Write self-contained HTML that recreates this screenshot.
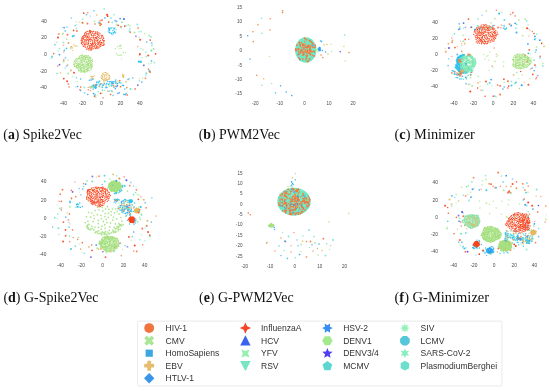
<!DOCTYPE html>
<html lang="en">
<head>
<meta charset="utf-8">
<title>t-SNE plots</title>
<style>
html,body{margin:0;padding:0;background:#fff;}
body{width:550px;height:391px;overflow:hidden;}
svg{display:block;}
.tk{font-family:"Liberation Sans",sans-serif;font-size:5.6px;fill:#4a4a4a;}
.lg{font-family:"Liberation Sans",sans-serif;font-size:8.55px;fill:#333;}
.cp{font-family:"Liberation Serif",serif;font-size:14.2px;fill:#111;}
</style>
</head>
<body>
<svg width="550" height="391" viewBox="0 0 550 391">
<rect width="550" height="391" fill="#fff"/>
<g>
<ellipse cx="305.8" cy="50" rx="10.7" ry="12.7" fill="#6de8c3"/>
<ellipse cx="115" cy="186.4" rx="6.6" ry="5.7" fill="#a6e081"/>
<circle cx="131.7" cy="219.9" r="3.1" fill="#f8431d"/>
<ellipse cx="137.1" cy="210.7" rx="2.9" ry="2.7" fill="#e3b860"/>
<circle cx="130.6" cy="201.2" r="1.9" fill="#2fc3ea"/>
<ellipse cx="294" cy="201.7" rx="16.7" ry="14" fill="#6de8c3"/>
<ellipse cx="271.4" cy="225.5" rx="2.9" ry="1.8" fill="#a6e081"/>
<ellipse cx="505.2" cy="245.5" rx="6.7" ry="5.7" fill="#a6e081"/>
<circle cx="476.4" cy="244.3" r="3.1" fill="#f8431d"/>
<ellipse cx="489.4" cy="250.8" rx="3.3" ry="3" fill="#2f9ff0"/>
<ellipse cx="533.4" cy="232.3" rx="2.9" ry="2.6" fill="#e3b860"/>
</g>
<defs><filter id="soft" x="-2%" y="-2%" width="104%" height="104%"><feGaussianBlur stdDeviation="0.32"/></filter></defs>
<g fill="none" stroke-linecap="round" filter="url(#soft)">
<path d="M92.3 47.0h0M83.0 42.8h0M93.5 37.2h0M103.7 41.9h0M100.5 40.3h0M91.5 35.2h0M103.2 37.1h0M94.8 40.5h0M82.0 37.9h0M88.5 43.4h0M90.5 41.1h0M93.9 46.3h0M86.8 40.3h0M93.2 44.6h0M86.0 41.6h0M84.0 37.6h0M96.9 48.6h0M95.3 37.5h0M87.3 47.8h0M89.6 30.3h0M82.7 44.6h0M89.0 34.9h0M83.7 35.7h0M97.3 34.6h0M90.7 39.2h0M93.1 48.5h0M84.2 43.0h0M94.1 33.4h0M86.0 44.5h0M86.7 37.0h0M96.5 46.0h0M102.6 39.3h0M101.2 38.0h0M103.0 40.5h0M97.3 32.0h0M92.0 31.4h0M84.1 39.4h0M98.5 35.0h0M87.5 46.3h0M86.2 35.0h0M95.7 32.0h0M95.1 35.6h0M92.6 43.5h0M87.7 36.2h0M97.6 42.1h0M87.8 39.5h0M91.1 48.5h0M94.1 43.2h0M99.4 36.1h0M94.8 47.1h0M93.4 38.8h0M97.4 40.6h0M89.6 31.7h0M88.9 49.9h0M97.2 36.4h0M87.1 42.8h0M85.5 39.9h0M100.0 33.8h0M86.8 49.2h0M94.0 34.7h0M89.0 33.1h0M98.3 39.8h0M92.0 37.1h0M87.9 44.4h0M96.2 40.9h0M82.7 36.7h0M88.7 41.9h0M95.4 44.3h0M90.8 45.4h0M88.6 40.7h0M89.8 48.0h0M104.2 44.2h0M103.7 38.4h0M97.0 43.3h0M84.4 34.0h0M86.4 38.8h0M90.3 50.0h0M85.3 32.7h0M89.2 45.5h0M98.8 32.9h0M87.9 37.5h0M101.4 43.8h0M82.4 40.1h0M90.7 43.5h0M99.3 47.1h0M99.7 41.4h0M101.2 35.3h0M97.8 46.7h0M95.7 33.5h0M100.0 42.7h0M95.3 42.9h0M98.2 37.6h0M93.7 31.4h0M88.6 48.3h0M102.9 43.1h0M91.0 34.0h0M102.5 35.3h0M84.9 46.0h0M99.3 45.3h0M87.8 31.3h0M92.4 33.0h0M92.8 40.8h0M81.7 42.4h0M86.7 33.7h0M84.6 44.6h0M84.5 40.9h0M101.6 42.4h0M95.3 48.5h0M98.2 48.0h0M81.4 43.6h0M90.9 37.8h0M94.6 39.1h0M102.2 45.3h0M97.7 44.6h0M98.7 43.7h0M85.3 47.3h0M89.3 36.8h0M99.9 38.4h0M85.4 36.7h0M81.2 40.7h0M90.7 31.0h0M91.1 47.2h0M100.7 46.2h0M104.2 40.7h0M96.5 37.6h0M89.0 38.3h0M89.4 39.5h0M86.4 31.8h0M82.8 41.3h0M97.3 33.3h0M92.2 45.7h0M93.0 35.6h0M94.9 45.4h0M102.0 36.6h0M91.7 49.7h0M83.1 38.5h0M96.0 38.7h0M90.5 32.5h0M83.4 46.2h0M100.4 44.5h0M89.7 46.7h0M85.8 43.1h0M91.7 39.9h0M88.0 33.9h0M96.4 47.3h0M98.8 42.3h0M81.6 39.1h0M85.0 35.5h0M103.5 45.2h0M92.5 42.1h0M97.2 38.8h0M94.4 41.8h0M91.7 44.4h0M477.6 29.4h0M486.7 34.8h0M488.3 30.2h0M486.4 43.8h0M475.1 35.9h0M490.8 40.6h0M490.9 29.2h0M484.7 25.5h0M494.6 37.6h0M479.5 31.2h0M496.0 36.0h0M492.4 28.7h0M492.0 31.3h0M487.6 28.5h0M495.8 30.6h0M489.2 36.6h0M487.6 43.3h0M477.3 37.1h0M482.5 41.2h0M479.6 38.4h0M493.3 29.7h0M495.8 33.8h0M497.2 32.1h0M476.2 30.8h0M489.4 34.1h0M489.1 38.7h0M486.6 25.1h0M494.0 36.4h0M479.4 43.1h0M494.5 33.4h0M492.5 34.2h0M490.6 35.2h0M477.7 38.4h0M486.7 36.1h0M489.7 30.3h0M476.0 33.3h0M476.8 27.6h0M477.5 34.0h0M484.1 29.0h0M481.5 43.7h0M483.6 33.5h0M478.6 41.7h0M485.1 32.5h0M491.8 33.0h0M477.3 40.8h0M485.7 38.6h0M491.0 37.8h0M475.9 37.5h0M478.8 26.8h0M480.1 35.7h0M491.8 39.4h0M488.9 42.0h0M483.4 42.9h0M482.5 37.7h0M484.4 40.1h0M478.9 37.4h0M476.1 39.2h0M489.9 27.9h0M478.9 33.7h0M481.8 38.8h0M481.2 25.1h0M485.1 29.7h0M494.3 31.3h0M488.0 40.8h0M487.2 30.8h0M488.1 25.8h0M487.1 32.6h0M495.6 38.2h0M479.8 28.2h0M482.5 36.5h0M479.5 29.6h0M478.9 39.8h0M482.9 27.7h0M485.6 41.4h0M484.1 31.5h0M493.4 28.0h0M486.8 29.6h0M481.2 35.1h0M488.7 27.5h0M480.3 27.0h0M481.6 33.0h0M494.5 39.8h0M490.8 26.7h0M488.3 33.2h0M480.9 41.5h0M487.8 38.6h0M473.8 34.3h0M485.2 24.3h0M481.3 37.3h0M477.6 31.9h0M483.1 24.6h0M475.2 29.3h0M485.6 28.5h0M481.2 27.8h0M481.7 31.1h0M493.7 41.1h0M483.4 26.1h0M475.7 32.1h0M485.5 42.8h0M480.5 39.5h0M484.8 37.5h0M480.3 32.4h0M476.3 35.1h0M492.3 41.0h0M493.0 37.7h0M488.6 35.1h0M481.3 29.8h0M485.4 34.9h0M493.3 35.2h0M492.3 36.2h0M483.6 35.4h0M483.3 39.3h0M493.6 38.9h0M487.1 27.0h0M477.6 43.1h0M490.8 42.1h0M494.6 28.9h0M490.3 32.5h0M477.3 35.9h0M495.0 35.2h0M480.3 33.8h0M495.3 32.2h0M484.3 41.5h0M497.8 34.1h0M482.8 32.4h0M488.9 32.1h0M487.3 41.9h0M474.3 31.9h0M478.9 32.4h0M491.0 36.4h0M484.4 43.7h0M485.8 26.9h0M484.2 27.7h0M484.8 36.0h0M479.0 35.2h0M493.7 32.4h0M485.5 31.1h0M474.6 30.6h0M481.9 42.4h0M478.0 30.6h0M496.7 34.8h0M486.7 39.6h0M476.3 41.9h0M482.2 34.2h0M488.9 29.1h0M489.2 40.0h0M487.2 37.5h0M482.8 30.0h0M492.0 27.5h0M481.8 26.7h0M479.9 40.6h0M489.4 26.1h0M481.6 40.2h0M478.2 28.2h0M476.5 28.8h0M482.3 28.8h0M95.0 203.7h0M109.2 197.9h0M94.5 189.3h0M105.4 194.0h0M89.9 200.1h0M103.5 190.9h0M92.1 198.8h0M104.6 198.1h0M107.2 196.5h0M102.5 200.7h0M99.9 194.9h0M107.2 197.7h0M97.4 190.1h0M101.0 188.6h0M91.5 188.1h0M92.3 196.2h0M88.4 197.4h0M96.6 198.0h0M106.1 199.4h0M102.4 202.1h0M90.0 191.2h0M105.1 188.5h0M100.3 206.4h0M104.9 202.1h0M108.2 194.9h0M97.4 188.4h0M96.7 196.1h0M87.5 190.2h0M93.8 194.6h0M102.8 186.9h0M99.9 202.3h0M87.8 193.9h0M89.1 194.0h0M94.1 197.2h0M95.1 202.4h0M105.7 196.1h0M97.7 195.0h0M93.8 204.0h0M96.8 203.0h0M88.7 198.8h0M102.6 197.4h0M92.4 203.0h0M99.1 188.6h0M87.5 191.5h0M98.6 192.3h0M101.5 199.4h0M104.1 196.3h0M107.2 193.3h0M96.1 193.6h0M99.8 193.5h0M98.1 198.9h0M103.3 193.2h0M104.1 203.7h0M101.9 193.1h0M90.4 201.6h0M93.5 191.9h0M92.9 189.3h0M87.6 195.1h0M100.9 200.9h0M99.9 199.9h0M108.2 200.3h0M90.9 199.3h0M95.3 198.2h0M105.1 200.5h0M95.9 199.6h0M108.0 191.8h0M86.9 199.2h0M92.6 200.4h0M104.4 191.8h0M102.3 190.2h0M95.9 205.2h0M100.6 204.2h0M91.5 194.2h0M96.4 191.8h0M108.2 198.7h0M99.4 197.6h0M98.9 201.5h0M107.0 189.2h0M99.1 196.3h0M102.4 196.0h0M97.6 193.2h0M91.5 197.4h0M91.4 192.6h0M95.2 187.2h0M109.5 194.2h0M89.7 189.4h0M98.2 204.9h0M90.1 193.0h0M110.3 195.6h0M107.2 201.6h0M101.7 205.4h0M102.9 199.5h0M97.6 206.1h0M86.7 198.0h0M95.2 192.4h0M99.7 205.2h0M95.2 196.2h0M94.4 199.9h0M98.5 202.9h0M105.6 189.9h0M100.4 191.4h0M96.1 188.5h0M90.1 196.9h0M97.2 200.1h0M93.1 187.6h0M92.4 190.8h0M97.5 201.7h0M98.5 187.4h0M96.2 201.9h0M107.3 190.5h0M94.7 191.3h0M93.8 202.7h0M86.9 196.7h0M101.1 196.3h0M103.5 188.1h0M101.8 191.7h0M102.7 203.8h0M99.5 189.8h0M90.0 198.5h0M93.0 201.8h0M89.7 195.5h0M103.6 195.2h0M101.1 202.2h0M100.1 187.4h0M97.8 191.4h0M97.6 197.1h0M91.0 189.6h0M96.5 194.8h0M88.3 200.8h0M88.7 190.6h0M92.9 193.6h0M95.1 194.8h0M88.3 189.3h0M96.1 190.5h0M101.9 194.6h0M89.0 192.0h0M93.3 198.4h0M100.6 197.4h0M104.2 189.4h0M94.2 201.4h0M101.7 187.4h0M105.5 192.7h0M106.5 194.9h0M91.0 195.9h0M108.9 196.4h0M93.7 190.3h0M91.6 201.9h0M91.2 203.6h0M105.7 191.3h0M103.6 201.4h0M106.0 197.3h0M100.4 198.8h0M101.0 190.3h0M109.1 192.4h0M99.0 206.7h0M102.5 188.7h0M91.3 200.7h0M87.2 192.7h0M98.5 200.2h0M99.4 203.8h0M96.9 187.2h0M103.0 205.3h0M92.4 204.6h0M518.8 223.0h0M514.6 216.9h0M519.3 216.5h0M522.1 214.5h0M511.4 226.4h0M516.5 218.5h0M508.7 219.8h0M517.8 231.6h0M514.4 214.2h0M516.8 225.5h0M514.8 223.9h0M522.0 230.5h0M515.9 231.9h0M514.1 220.3h0M529.0 218.9h0M508.5 221.9h0M520.9 222.4h0M512.9 228.5h0M515.7 229.9h0M529.3 228.2h0M514.3 222.1h0M515.3 218.0h0M522.7 226.5h0M526.1 215.8h0M528.6 223.3h0M525.4 223.3h0M526.8 218.1h0M516.2 228.5h0M515.5 225.0h0M509.6 226.7h0M509.8 228.3h0M519.2 232.8h0M525.4 218.1h0M524.5 214.3h0M510.0 221.9h0M516.6 216.1h0M518.0 229.8h0M519.9 218.5h0M522.9 223.2h0M512.6 219.5h0M524.3 220.4h0M509.4 224.0h0M523.7 227.8h0M514.5 230.0h0M529.6 221.0h0M506.8 223.5h0M524.1 224.5h0M527.5 220.2h0M522.2 215.9h0M512.4 217.3h0M524.9 229.2h0M522.6 224.9h0M520.8 219.8h0M510.7 216.5h0M528.4 217.5h0M508.3 225.4h0M512.2 224.6h0M518.0 219.9h0M522.5 213.3h0M508.2 226.8h0M516.4 222.3h0M522.3 228.2h0M530.1 225.9h0M519.9 213.1h0M528.6 227.1h0M526.2 228.1h0M517.8 226.7h0M519.8 227.7h0M516.3 227.3h0M527.2 222.6h0M513.6 215.7h0M523.6 222.0h0M513.6 218.4h0M517.3 224.1h0M520.3 230.5h0M522.5 219.1h0M528.7 229.7h0M518.8 214.3h0M517.5 214.3h0M522.2 231.8h0M520.7 214.1h0M518.4 212.6h0M516.1 214.3h0M526.0 221.8h0M511.4 218.5h0M508.6 218.3h0M525.4 230.7h0M523.8 217.3h0M525.9 226.4h0M527.4 230.0h0M523.8 215.9h0M511.2 229.9h0M528.1 221.7h0M516.0 220.4h0M507.8 220.8h0M528.6 225.1h0M520.0 224.5h0M521.0 226.9h0M511.6 215.6h0M522.3 217.8h0M509.7 217.7h0M517.1 212.9h0M527.1 225.0h0M527.0 214.8h0M512.6 226.1h0M513.8 226.8h0M515.0 228.7h0M527.7 226.2h0M524.8 227.1h0M511.1 220.0h0M526.3 220.0h0M521.3 224.4h0M520.9 232.8h0M512.6 222.6h0M517.5 221.4h0M510.8 223.5h0M512.3 221.2h0M519.9 220.6h0M511.2 222.2h0M507.0 222.0h0M523.1 220.7h0M523.9 226.0h0M526.1 213.9h0M529.7 222.7h0M517.8 217.9h0M513.3 231.0h0M519.2 229.5h0M523.9 231.5h0M519.1 231.1h0M505.4 224.1h0M510.7 225.1h0M520.9 215.5h0M523.3 229.5h0M513.2 214.3h0M519.3 226.5h0M526.2 229.6h0M525.3 225.3h0M521.6 220.9h0M525.2 216.9h0M518.5 227.7h0M524.5 219.2h0M510.0 219.3h0M513.4 224.0h0M518.0 215.5h0M527.8 228.8h0M511.9 227.7h0M515.1 215.3h0M509.5 220.8h0M519.2 219.6h0M520.8 229.0h0M514.3 225.4h0M514.8 231.4h0M521.0 217.6h0M519.0 221.4h0M514.8 219.2h0M522.3 221.9h0M507.9 224.2h0M528.3 215.8h0M506.3 225.5h0M527.3 227.4h0M515.1 213.1h0M515.6 226.3h0M516.6 230.9h0M520.7 225.7h0M518.9 225.3h0" stroke="#f8431d" stroke-width="1.35"/>
<path d="M90.9 66.7h0M76.8 60.6h0M84.0 70.3h0M76.4 65.8h0M91.1 69.5h0M79.9 70.5h0M80.4 66.6h0M89.6 67.4h0M88.6 63.4h0M77.6 63.1h0M90.5 64.4h0M81.0 58.2h0M83.4 71.4h0M85.4 57.1h0M87.4 65.2h0M78.1 67.8h0M91.8 60.5h0M79.1 58.2h0M80.4 62.9h0M80.9 65.4h0M84.9 55.7h0M90.4 61.8h0M78.8 66.7h0M76.7 67.2h0M85.9 67.6h0M77.1 61.7h0M89.4 70.6h0M81.3 70.8h0M81.7 62.5h0M73.8 64.3h0M83.2 55.9h0M83.8 58.0h0M81.6 57.2h0M87.2 56.1h0M88.5 59.5h0M80.8 67.7h0M74.6 60.9h0M85.0 63.3h0M88.7 57.7h0M86.1 55.8h0M85.1 70.0h0M87.1 70.0h0M82.7 58.3h0M90.7 57.7h0M80.5 60.1h0M91.9 67.2h0M84.3 59.7h0M85.0 61.1h0M78.4 69.7h0M91.5 62.8h0M74.8 63.7h0M82.1 67.6h0M84.2 72.5h0M90.4 60.3h0M78.2 59.5h0M82.7 70.1h0M86.1 62.1h0M82.8 63.0h0M86.1 69.3h0M87.3 68.2h0M81.0 61.3h0M80.2 68.8h0M82.9 59.4h0M76.3 63.6h0M79.2 61.6h0M86.5 57.4h0M84.1 66.4h0M88.0 70.7h0M76.4 58.7h0M86.8 71.2h0M89.4 65.7h0M81.1 64.1h0M80.8 71.9h0M89.9 58.8h0M80.1 56.0h0M84.5 68.0h0M79.8 64.4h0M77.9 58.3h0M86.8 61.2h0M83.6 64.4h0M89.7 57.0h0M79.4 56.9h0M82.8 60.9h0M89.2 60.6h0M90.8 65.6h0M81.7 68.7h0M78.9 63.5h0M87.2 62.8h0M81.3 55.5h0M86.7 66.2h0M75.6 66.7h0M75.5 62.1h0M88.0 69.3h0M74.4 65.2h0M87.1 59.4h0M92.7 61.4h0M82.0 71.9h0M82.0 65.7h0M84.7 71.4h0M91.9 65.0h0M75.5 59.9h0M77.2 64.7h0M85.5 59.3h0M86.3 64.4h0M92.0 59.4h0M89.8 63.3h0M88.3 61.3h0M83.9 61.4h0M88.3 65.9h0M88.1 67.4h0M85.0 65.1h0M78.0 65.8h0M85.2 66.2h0M92.0 66.1h0M74.0 61.8h0M85.9 72.1h0M77.1 68.3h0M82.4 54.9h0M88.3 55.8h0M79.3 67.8h0M83.2 67.3h0M84.3 56.8h0M74.4 66.4h0M82.5 64.6h0M81.7 60.2h0M83.5 68.6h0M78.4 64.8h0M87.5 57.8h0M91.1 68.3h0M88.9 68.6h0M79.1 65.6h0M80.9 69.8h0M83.2 65.4h0M88.4 64.5h0M80.0 58.9h0M85.4 58.2h0M92.1 64.0h0M82.8 56.9h0M89.3 62.1h0M78.8 70.9h0M87.5 63.9h0M517.7 65.4h0M515.5 64.5h0M522.7 55.1h0M526.9 57.7h0M518.3 66.4h0M519.5 58.0h0M519.0 54.0h0M520.3 54.7h0M522.0 60.3h0M515.5 59.4h0M523.9 66.1h0M529.3 63.3h0M526.0 64.1h0M528.4 65.4h0M522.0 67.1h0M527.3 61.9h0M519.6 62.2h0M528.3 62.6h0M522.0 57.0h0M524.4 56.5h0M514.6 55.6h0M525.1 67.4h0M524.6 59.4h0M515.0 62.9h0M520.3 67.4h0M526.6 67.2h0M527.9 58.3h0M523.8 68.3h0M524.6 60.8h0M515.0 60.7h0M516.7 66.1h0M513.7 59.2h0M516.2 56.1h0M519.5 64.2h0M519.3 67.8h0M515.3 56.7h0M527.6 64.3h0M513.6 57.5h0M521.8 53.9h0M525.6 55.8h0M517.5 56.0h0M517.9 60.3h0M513.8 61.6h0M529.0 58.8h0M515.5 65.9h0M514.1 64.7h0M521.7 55.6h0M514.0 66.5h0M520.6 57.3h0M524.5 55.0h0M525.7 61.1h0M518.8 65.0h0M526.2 65.5h0M527.0 59.1h0M522.3 64.3h0M525.5 57.0h0M530.7 60.0h0M516.6 57.8h0M520.3 68.8h0M517.1 63.5h0M524.7 57.7h0M523.4 59.6h0M516.2 68.0h0M519.7 56.3h0M516.8 60.7h0M521.5 65.7h0M529.8 61.3h0M524.4 62.8h0M519.6 65.8h0M523.4 64.8h0M527.2 60.2h0M512.6 59.6h0M522.3 62.9h0M529.3 64.4h0M513.3 63.3h0M513.2 60.5h0M518.2 59.2h0M517.2 62.2h0M521.0 61.9h0M531.0 62.3h0M521.6 58.2h0M520.1 60.2h0M528.0 57.1h0M521.7 68.5h0M528.3 61.0h0M516.0 63.4h0M520.1 63.2h0M526.0 62.6h0M523.2 56.1h0M517.1 59.0h0M518.8 55.7h0M520.6 64.7h0M516.1 54.8h0M518.7 61.0h0M513.0 64.7h0M517.3 67.8h0M518.4 68.6h0M531.2 61.0h0M523.1 57.6h0M529.1 57.5h0M523.5 54.0h0M522.3 59.2h0M527.5 66.4h0M517.4 54.2h0M525.0 66.2h0M516.4 65.0h0M519.3 59.3h0M520.4 58.7h0M524.7 64.3h0M529.3 60.3h0M518.1 57.3h0M515.9 61.9h0M522.3 61.4h0M527.1 56.3h0M515.6 57.7h0M523.3 61.8h0M530.4 63.7h0M525.7 59.3h0M515.3 67.0h0M528.1 59.6h0M518.4 62.9h0M523.2 63.6h0M522.6 65.8h0M513.0 65.9h0M523.1 66.8h0" stroke="#a6e081" stroke-width="1.4"/>
<path d="M112.3 34.7h0M114.4 31.7h0M110.0 28.5h0M109.8 29.9h0M109.4 28.5h0M113.1 27.3h0M111.6 28.1h0M114.3 32.4h0M108.7 29.5h0M111.7 33.1h0M109.0 27.6h0M113.1 32.7h0M110.3 32.4h0M114.9 28.1h0M115.3 33.0h0M116.1 29.8h0M113.6 33.6h0M108.4 28.2h0M108.5 32.0h0M109.5 32.6h0M109.7 30.0h0M115.9 32.1h0M111.5 33.7h0M109.3 29.3h0M111.7 34.0h0M114.5 28.9h0M114.5 31.4h0M113.0 32.3h0M108.0 31.8h0M109.2 29.6h0M115.0 27.7h0M108.9 30.6h0M109.7 30.4h0M109.7 33.3h0M113.7 30.1h0M112.6 30.8h0M113.7 28.6h0M111.4 33.2h0M109.5 30.7h0M111.3 27.7h0M110.3 28.0h0M109.5 29.7h0M320.1 48.3h0M320.1 47.8h0M319.4 47.4h0M319.5 47.7h0M320.1 48.1h0M319.5 47.8h0M319.0 48.2h0M320.1 47.4h0" stroke="#2fc3ea" stroke-width="1.1"/>
<path d="M104.6 76.9h0M106.6 73.0h0M109.5 75.4h0M102.8 75.1h0M107.7 73.6h0M102.6 73.6h0M108.2 75.8h0M105.5 74.3h0M109.7 76.9h0M102.7 76.3h0M101.5 75.3h0M106.6 75.2h0M106.8 79.3h0M106.2 80.3h0M104.1 72.7h0M108.1 77.8h0M103.5 80.2h0M105.1 79.4h0M101.4 78.4h0M105.6 72.4h0M108.1 74.6h0M102.5 79.2h0M101.2 76.9h0M105.1 80.5h0M104.1 78.3h0M103.8 74.4h0M109.1 79.2h0M106.0 78.4h0M104.6 75.6h0M106.4 77.0h0M109.6 78.2h0M108.0 79.4h0M102.7 77.7h0M122.6 74.1h0M122.5 75.7h0M123.0 76.9h0M123.4 77.4h0M123.7 76.8h0M123.8 74.8h0M123.6 75.6h0M123.6 76.2h0M139.0 210.7h0M135.3 209.6h0M138.6 208.9h0M135.5 211.4h0M136.8 210.6h0M134.9 210.2h0M136.4 211.1h0M139.4 210.9h0M139.3 211.7h0M138.6 212.2h0M138.8 209.4h0M136.4 207.9h0M138.6 213.2h0M135.7 211.0h0M135.4 211.4h0M135.2 212.4h0M135.2 209.6h0M138.5 211.5h0M138.7 211.7h0M139.6 209.9h0M139.1 211.0h0M138.8 212.9h0M138.8 212.3h0M134.6 209.9h0M139.8 211.6h0M136.2 209.3h0M135.8 211.1h0M138.0 208.4h0M135.1 210.6h0M138.0 209.8h0M534.6 232.4h0M533.3 230.7h0M533.9 234.4h0M532.4 232.3h0M531.6 230.3h0M532.8 235.0h0M536.0 233.6h0M531.6 234.4h0M534.3 230.7h0M531.6 230.2h0M535.3 233.2h0M531.4 231.6h0M534.0 234.6h0M531.2 230.2h0M531.0 232.8h0M531.3 232.6h0M535.0 231.1h0M532.5 230.8h0M533.4 235.0h0M533.9 233.2h0M531.3 232.1h0M534.3 230.8h0M534.8 231.0h0M533.3 229.8h0M532.2 231.6h0M536.4 231.5h0M535.1 232.7h0M531.2 231.7h0M531.3 233.8h0M532.0 234.7h0" stroke="#e3b860" stroke-width="1.2"/>
<path d="M93.0 76.6h0M92.2 77.9h0M93.7 78.6h0M91.8 76.7h0M91.2 76.2h0M91.0 78.6h0M92.7 76.2h0M94.5 75.8h0M90.9 78.5h0M92.4 79.0h0M91.2 76.7h0M93.4 76.6h0M71.3 46.5h0M75.9 46.0h0M76.8 46.0h0M70.7 49.0h0M71.5 46.6h0M71.9 46.8h0M72.4 47.9h0M70.5 46.9h0M72.5 50.5h0M74.1 46.0h0M73.9 44.6h0M75.2 46.0h0M76.9 45.9h0M71.2 47.9h0M461.7 64.4h0M467.9 59.7h0M466.3 68.3h0M468.5 70.7h0M472.9 64.7h0M469.1 66.3h0M466.2 65.1h0M469.5 61.3h0M461.7 63.5h0M473.1 64.3h0M469.4 59.2h0M464.7 63.0h0M472.1 62.0h0M465.2 68.3h0M469.9 69.3h0M470.5 66.4h0M471.5 65.7h0M463.6 59.7h0M471.6 60.6h0M472.9 63.6h0M469.9 65.1h0M470.5 66.7h0M463.5 63.3h0M472.4 65.3h0M466.6 68.1h0M465.4 63.1h0M468.7 57.5h0M466.9 70.4h0M474.0 64.7h0M468.8 64.2h0M472.2 60.3h0M462.9 61.7h0M468.7 70.0h0M469.5 63.1h0M464.9 68.3h0M473.5 61.8h0M466.8 65.4h0M469.0 61.8h0M472.4 65.4h0M463.5 60.7h0M467.6 68.9h0M462.3 66.0h0M467.6 70.1h0M465.0 67.5h0M461.7 65.1h0" stroke="#e3b860" stroke-width="1.1"/>
<path d="M119.8 45.6h0M120.3 55.2h0M123.4 52.5h0M116.2 53.5h0M120.9 45.2h0M119.2 46.3h0M115.4 48.5h0M121.6 55.2h0M125.6 52.7h0M118.9 55.5h0M117.3 46.5h0M117.5 54.8h0M119.1 48.8h0M121.7 58.8h0M121.1 48.5h0M120.5 46.3h0M472.5 60.0h0M472.6 57.6h0M468.1 63.8h0M468.9 67.4h0M472.6 61.3h0M463.2 64.3h0M465.8 63.8h0M471.5 56.6h0M468.5 60.5h0M471.3 61.1h0M466.2 63.8h0M463.8 59.7h0M473.9 61.5h0M472.4 58.7h0M463.8 59.0h0M461.7 66.1h0M472.1 58.9h0M471.0 65.6h0M468.6 70.1h0M462.8 60.9h0M467.4 57.0h0M462.8 58.2h0M466.7 56.8h0M468.6 59.9h0M465.1 64.7h0M472.6 64.9h0M464.3 60.0h0M466.4 65.5h0M468.1 59.4h0M471.9 62.7h0M471.4 58.5h0M467.3 56.6h0M464.1 69.0h0M464.6 59.8h0M467.0 68.5h0M467.0 63.2h0M464.8 64.0h0M465.9 65.8h0M468.2 67.2h0M464.4 68.5h0M471.3 69.3h0M470.5 59.9h0M473.2 62.8h0M473.3 65.6h0M473.4 59.6h0M463.0 61.6h0M467.9 63.7h0M465.2 63.2h0M471.3 60.1h0M473.8 63.5h0M468.7 59.7h0M467.5 67.5h0M471.0 60.0h0M473.5 58.5h0M466.7 56.9h0M469.4 70.0h0M470.7 57.0h0M465.3 64.3h0M466.2 66.4h0M469.1 64.9h0M462.4 58.9h0M474.1 65.0h0M473.5 63.5h0M465.9 62.8h0M464.8 64.8h0M473.0 65.4h0M467.5 67.6h0M466.8 68.9h0M466.9 67.0h0M472.5 61.4h0M473.9 62.1h0M464.5 62.9h0M467.9 55.8h0M464.9 58.8h0M468.5 61.0h0M468.0 61.0h0M467.8 59.9h0M466.5 67.5h0M473.5 60.3h0M464.1 69.2h0M463.5 63.7h0M467.9 66.3h0M466.2 64.4h0M469.5 61.4h0M469.9 66.8h0M468.5 67.6h0M473.4 59.5h0M463.5 68.1h0M464.7 57.5h0M473.5 64.5h0" stroke="#b4e89a" stroke-width="1.3"/>
<path d="M155.6 53.8h0M100.6 93.3h0M63.8 78.6h0M107.7 16.2h0M118.1 25.3h0M124.8 26.0h0M535.0 65.1h0M459.4 61.0h0M128.9 236.9h0M65.5 229.9h0M514.2 244.4h0M506.1 241.5h0M479.3 254.2h0M491.1 184.1h0" stroke="#f8431d" stroke-width="1.75"/>
<path d="M148.2 55.5h0M67.1 81.3h0M74.0 72.7h0M140.2 39.8h0M528.4 84.8h0M486.0 81.4h0M148.1 232.1h0M63.1 241.4h0M92.7 190.3h0M527.3 236.3h0M445.1 205.8h0M512.6 184.0h0M532.1 205.7h0" stroke="#f8431d" stroke-width="2.05" stroke-opacity="0.9"/>
<path d="M146.2 56.6h0M139.4 80.5h0M59.4 48.6h0M76.4 28.6h0M82.7 19.2h0M104.2 8.9h0M482.7 90.3h0M536.8 34.0h0M139.8 217.4h0M69.5 236.2h0M116.6 175.8h0M533.8 225.9h0M489.7 249.7h0M477.5 248.3h0M459.6 218.4h0M511.3 192.9h0M523.2 187.6h0" stroke="#6de8c3" stroke-width="1.75" stroke-opacity="0.7"/>
<path d="M142.2 57.6h0M62.2 27.6h0M464.4 73.7h0M452.2 35.8h0M504.1 25.2h0M145.0 228.1h0M109.0 248.6h0M66.7 234.8h0M57.3 218.8h0M107.3 188.3h0M447.3 227.1h0M456.1 203.3h0M474.0 188.6h0" stroke="#6de8c3" stroke-width="1.5" stroke-opacity="0.5"/>
<path d="M151.5 60.8h0M52.1 56.3h0M64.3 50.3h0M66.5 48.4h0M104.9 17.8h0M489.7 82.8h0M70.1 202.3h0M104.5 175.7h0M526.0 192.5h0" stroke="#2fc3ea" stroke-width="1.75" stroke-opacity="0.9"/>
<path d="M154.3 62.6h0M76.3 77.7h0M129.8 28.7h0M511.5 81.4h0M463.7 41.0h0M146.6 226.3h0M84.3 253.4h0M151.8 197.9h0M138.9 211.4h0M463.1 213.0h0M485.5 175.6h0" stroke="#2fc3ea" stroke-width="1.75" stroke-opacity="0.5"/>
<path d="M151.1 63.1h0M142.7 78.0h0M72.5 76.5h0M139.0 37.3h0M143.0 49.7h0M529.9 78.5h0M522.5 74.8h0M96.5 177.0h0M109.8 179.2h0M138.8 195.0h0M460.4 245.4h0M456.2 194.4h0M470.5 192.3h0M482.4 180.8h0M528.0 192.2h0" stroke="#b4e89a" stroke-width="1.75" stroke-opacity="0.7"/>
<path d="M148.4 63.7h0M77.3 81.6h0M518.8 78.4h0M462.8 59.6h0M122.5 249.6h0M106.7 252.9h0" stroke="#b4e89a" stroke-width="1.5" stroke-opacity="0.7"/>
<path d="M144.1 65.0h0M146.3 73.0h0M66.9 27.1h0M80.8 194.8h0M79.2 188.6h0M112.5 184.9h0M507.4 252.3h0M500.1 253.3h0M512.5 179.1h0" stroke="#2f9ff0" stroke-width="1.75" stroke-opacity="0.5"/>
<path d="M143.6 65.4h0M102.9 251.5h0" stroke="#5a48e8" stroke-width="1.75" stroke-opacity="0.7"/>
<path d="M148.5 69.0h0M130.2 32.2h0M540.2 56.3h0M497.7 85.1h0M493.2 96.2h0M451.9 72.9h0M452.0 42.3h0M512.8 12.7h0M136.7 251.4h0M119.9 243.3h0M82.3 242.7h0M60.2 194.2h0M71.4 190.3h0M99.1 176.2h0M136.4 189.8h0M146.1 207.8h0M535.5 242.5h0M510.6 250.0h0M516.4 181.8h0M537.7 211.9h0" stroke="#f8431d" stroke-width="1.75" stroke-opacity="0.7"/>
<path d="M149.4 71.0h0M499.1 13.6h0M140.7 206.9h0" stroke="#2fc3ea" stroke-width="2.05"/>
<path d="M150.1 72.1h0M507.9 81.3h0M459.8 240.1h0M463.3 216.3h0" stroke="#f47a3c" stroke-width="2.05"/>
<path d="M146.4 73.7h0M57.1 73.5h0M152.0 45.3h0M487.7 84.1h0M455.6 74.2h0M454.5 33.7h0M535.5 52.2h0M125.0 245.5h0M75.4 246.2h0M466.5 186.5h0M471.9 181.8h0" stroke="#6de8c3" stroke-width="1.75" stroke-opacity="0.9"/>
<path d="M145.7 75.5h0M65.1 68.1h0M139.0 31.7h0M140.9 48.6h0M463.7 28.2h0M528.1 28.8h0M120.7 242.9h0M59.0 234.5h0M476.0 254.9h0M454.8 197.5h0" stroke="#2fc3ea" stroke-width="1.5" stroke-opacity="0.5"/>
<path d="M145.4 78.2h0M445.8 51.7h0M479.3 241.8h0M524.9 189.9h0" stroke="#f47a3c" stroke-width="2.05" stroke-opacity="0.7"/>
<path d="M139.5 78.4h0M445.1 48.5h0M80.4 248.7h0" stroke="#e3b860" stroke-width="1.5" stroke-opacity="0.5"/>
<path d="M141.8 81.9h0M77.6 86.6h0M534.1 70.7h0M502.9 89.0h0M471.8 70.8h0M133.8 231.9h0M461.9 242.3h0M479.3 190.0h0" stroke="#2f9ff0" stroke-width="1.5"/>
<path d="M132.6 77.8h0M93.5 84.8h0M84.5 92.8h0M65.4 57.8h0M54.9 44.7h0M494.8 96.2h0M448.1 65.6h0M134.5 202.9h0M523.3 199.9h0" stroke="#2fc3ea" stroke-width="1.75" stroke-opacity="0.7"/>
<path d="M137.8 85.1h0M59.5 64.7h0M463.6 23.0h0M90.9 257.0h0M72.6 191.9h0" stroke="#5a48e8" stroke-width="1.75" stroke-opacity="0.9"/>
<path d="M129.0 78.7h0" stroke="#5a48e8" stroke-width="1.5" stroke-opacity="0.5"/>
<path d="M129.0 79.4h0M491.8 86.0h0M480.1 86.2h0M522.9 27.7h0M82.1 252.6h0M57.2 204.7h0M79.6 192.3h0M546.2 214.8h0" stroke="#b4e89a" stroke-width="1.5" stroke-opacity="0.5"/>
<path d="M135.1 88.9h0M63.8 60.1h0M68.5 42.9h0M72.5 229.8h0M129.8 185.7h0M520.9 236.7h0M473.6 177.7h0M516.4 188.2h0" stroke="#f47a3c" stroke-width="1.75" stroke-opacity="0.9"/>
<path d="M126.0 81.6h0M478.0 82.9h0M98.6 249.0h0" stroke="#e3b860" stroke-width="1.75" stroke-opacity="0.9"/>
<path d="M130.5 88.9h0M151.3 50.6h0M58.4 228.3h0M92.2 181.4h0M104.9 181.4h0M461.1 233.7h0" stroke="#6de8c3" stroke-width="2.05"/>
<path d="M126.8 87.3h0M83.3 23.3h0M144.8 33.7h0M504.2 82.5h0M452.2 41.6h0M138.7 207.0h0M493.7 241.3h0M461.5 187.3h0M482.1 185.1h0" stroke="#b4e89a" stroke-width="1.5"/>
<path d="M126.8 87.8h0M101.5 24.3h0M100.4 23.2h0M100.2 25.5h0M99.5 23.6h0M100.9 24.6h0M99.8 25.2h0M457.8 73.3h0M456.1 72.9h0M459.2 68.4h0M460.8 74.8h0M459.8 74.9h0M461.7 73.2h0M457.4 75.0h0M458.6 71.5h0M454.8 71.6h0M458.6 69.8h0M461.7 51.2h0M61.4 210.0h0M71.5 198.8h0M83.5 183.8h0" stroke="#f47a3c" stroke-width="1.5"/>
<path d="M121.0 83.0h0M84.3 87.5h0M51.6 57.9h0M63.4 42.5h0M112.3 22.5h0M125.8 25.7h0M129.4 31.0h0M150.9 36.7h0M542.8 66.1h0M516.0 28.3h0M137.7 221.8h0M526.7 249.5h0M468.9 200.5h0" stroke="#6de8c3" stroke-width="2.05" stroke-opacity="0.7"/>
<path d="M117.9 81.0h0M95.7 97.2h0M66.7 39.2h0M62.5 34.1h0M485.5 28.6h0M491.1 22.8h0M495.0 18.7h0M518.8 19.9h0M525.2 19.2h0M522.7 35.7h0M536.6 46.9h0M140.5 219.4h0M98.4 188.8h0M486.1 179.4h0" stroke="#b4e89a" stroke-width="1.75" stroke-opacity="0.9"/>
<path d="M120.6 86.7h0M509.5 24.1h0M101.6 247.7h0M69.3 213.8h0M61.4 201.3h0M456.4 217.3h0M522.8 183.8h0" stroke="#f47a3c" stroke-width="1.75"/>
<path d="M117.2 85.7h0M80.7 86.9h0M95.0 24.0h0M507.8 88.1h0M486.9 27.2h0M494.0 25.5h0M91.7 245.0h0M75.8 196.8h0M454.0 233.8h0M448.3 213.2h0M447.7 207.4h0M524.2 199.1h0" stroke="#f8431d" stroke-width="1.5" stroke-opacity="0.9"/>
<path d="M115.7 82.8h0M59.4 54.6h0M64.1 27.5h0M120.1 18.6h0M491.1 79.6h0M471.5 27.2h0M479.9 28.7h0M515.1 23.3h0M534.9 36.4h0M539.8 40.2h0M96.2 245.0h0M85.6 184.1h0M534.4 223.8h0M506.2 175.7h0" stroke="#2f9ff0" stroke-width="1.75"/>
<path d="M115.4 86.0h0M112.7 84.8h0M108.0 91.1h0M102.9 97.9h0M88.3 89.8h0M71.0 70.6h0M57.7 66.0h0M87.7 12.6h0M100.2 20.7h0M527.0 61.7h0M535.9 78.8h0M461.0 76.0h0M462.6 58.1h0M470.8 27.3h0M500.9 27.8h0M515.1 15.9h0M121.3 255.6h0M111.8 246.4h0M69.7 241.5h0M68.4 219.9h0M59.2 201.3h0M124.2 176.8h0M139.7 209.6h0M138.6 212.4h0M493.1 186.4h0M500.3 186.3h0M528.3 186.1h0" stroke="#f8431d" stroke-width="1.75" stroke-opacity="0.5"/>
<path d="M112.6 91.6h0M105.8 86.3h0M102.4 84.0h0M79.6 22.0h0M524.7 82.1h0M496.2 97.1h0M476.8 28.2h0M93.3 189.3h0" stroke="#e3b860" stroke-width="1.75" stroke-opacity="0.5"/>
<path d="M113.0 95.4h0M75.1 25.7h0M71.2 18.1h0M52.7 227.1h0M102.2 184.4h0" stroke="#2f9ff0" stroke-width="1.5" stroke-opacity="0.7"/>
<path d="M109.3 86.1h0M63.1 33.4h0M94.5 21.4h0M128.3 24.9h0M478.3 76.3h0M470.5 77.7h0M459.7 27.1h0M486.3 10.9h0M541.7 42.7h0M118.8 246.1h0M87.1 180.9h0M127.5 191.2h0M545.9 219.3h0M491.0 253.8h0M468.3 185.6h0M501.4 176.0h0" stroke="#b4e89a" stroke-width="1.75"/>
<path d="M104.5 90.6h0M469.8 84.3h0" stroke="#6de8c3" stroke-width="1.5" stroke-opacity="0.7"/>
<path d="M97.5 95.4h0M70.8 69.6h0M76.2 21.6h0M531.1 58.2h0M462.2 62.3h0M462.4 53.1h0M141.5 234.5h0M131.3 240.3h0M79.5 244.0h0M67.2 212.7h0M136.1 187.3h0M532.5 237.3h0M502.5 244.5h0M467.0 232.9h0" stroke="#b4e89a" stroke-width="1.75" stroke-opacity="0.5"/>
<path d="M94.5 96.0h0M73.6 30.4h0M82.4 22.7h0M83.7 13.2h0M102.0 20.0h0M108.7 22.0h0M121.0 26.8h0M150.2 40.0h0M532.8 74.4h0M508.7 86.1h0M503.9 79.2h0M500.2 85.8h0M471.6 72.0h0M458.7 74.6h0M455.0 47.5h0M465.2 39.3h0M468.5 19.1h0M529.2 49.8h0M149.7 235.2h0M114.5 247.8h0M105.5 257.2h0M92.1 250.4h0M65.6 235.8h0M63.5 222.0h0M138.3 199.3h0M525.3 227.7h0M477.6 242.5h0" stroke="#f8431d" stroke-width="1.75" stroke-opacity="0.9"/>
<path d="M95.5 84.9h0M76.9 31.0h0M500.1 94.6h0M146.7 225.7h0M62.5 189.8h0M498.2 172.6h0" stroke="#f47a3c" stroke-width="2.05" stroke-opacity="0.9"/>
<path d="M90.5 90.7h0M80.7 249.2h0" stroke="#f47a3c" stroke-width="1.5" stroke-opacity="0.7"/>
<path d="M88.2 87.4h0M63.8 51.9h0M63.6 45.3h0M530.8 68.9h0M481.0 90.3h0M451.9 56.6h0M451.7 38.1h0M484.0 27.3h0M501.3 25.1h0M529.8 30.0h0M61.7 207.9h0M74.9 182.0h0M140.9 196.8h0M534.7 221.5h0M540.8 196.4h0" stroke="#f8431d" stroke-width="1.5" stroke-opacity="0.5"/>
<path d="M80.8 90.8h0M540.0 57.9h0M462.2 67.7h0M452.3 70.6h0M514.8 239.6h0M488.1 241.3h0M458.7 242.2h0M465.7 232.9h0" stroke="#2fc3ea" stroke-width="1.5" stroke-opacity="0.9"/>
<path d="M80.0 89.7h0M53.8 53.7h0M520.8 71.4h0M485.1 96.2h0M477.6 88.0h0M534.0 33.4h0M541.6 43.5h0" stroke="#f8431d" stroke-width="1.5"/>
<path d="M75.8 86.9h0M58.2 51.1h0M76.5 24.6h0M90.4 16.2h0M535.6 66.9h0M528.1 24.9h0M144.7 240.5h0M513.8 248.4h0M501.4 251.3h0" stroke="#6de8c3" stroke-width="1.75" stroke-opacity="0.5"/>
<path d="M80.6 78.9h0M93.9 10.8h0M146.8 42.1h0M95.9 87.6h0M95.1 86.3h0M92.8 87.2h0M96.3 87.6h0M92.3 86.0h0M92.2 86.1h0M93.9 85.8h0M93.6 86.6h0M95.9 86.3h0M93.3 85.9h0M92.9 87.3h0M90.4 87.3h0M95.7 88.2h0M94.7 87.2h0M95.5 87.2h0M95.0 87.3h0M72.4 36.5h0M72.6 36.1h0M72.7 36.6h0M74.0 35.6h0M74.0 35.9h0M139.2 61.8h0M141.0 61.3h0M139.8 61.6h0M140.7 62.3h0M141.2 62.3h0M138.7 61.3h0M138.5 62.0h0M151.4 221.9h0M69.1 226.9h0M447.8 221.2h0M503.1 182.1h0" stroke="#2fc3ea" stroke-width="1.5"/>
<path d="M69.1 87.1h0" stroke="#f47a3c" stroke-width="2.05" stroke-opacity="0.5"/>
<path d="M68.4 84.0h0M58.9 34.1h0M460.6 222.0h0M465.7 195.9h0M495.2 187.8h0" stroke="#f8431d" stroke-width="2.05" stroke-opacity="0.5"/>
<path d="M68.2 73.6h0M134.6 32.5h0M153.6 49.1h0M472.1 85.9h0M488.0 25.9h0M97.2 248.2h0M69.7 206.8h0" stroke="#b4e89a" stroke-width="2.05"/>
<path d="M60.5 72.8h0M96.7 14.9h0M458.6 201.0h0" stroke="#e3b860" stroke-width="1.75" stroke-opacity="0.7"/>
<path d="M66.8 65.9h0M65.3 31.0h0M151.7 42.9h0M466.1 83.8h0M459.3 23.7h0M82.7 189.1h0M145.2 202.8h0" stroke="#2f9ff0" stroke-width="2.05" stroke-opacity="0.5"/>
<path d="M67.7 64.7h0M137.8 46.6h0M468.6 84.3h0M155.8 216.1h0M545.1 221.9h0M493.8 248.4h0M481.3 189.3h0M506.3 186.4h0" stroke="#f47a3c" stroke-width="1.75" stroke-opacity="0.5"/>
<path d="M63.5 61.7h0M116.7 24.5h0M149.1 35.4h0M78.3 237.4h0M447.0 228.5h0M503.7 190.3h0" stroke="#b4e89a" stroke-width="2.05" stroke-opacity="0.9"/>
<path d="M68.1 60.0h0M121.2 27.6h0M530.1 54.0h0M466.7 77.2h0M481.4 28.2h0M141.3 213.8h0M467.7 194.2h0" stroke="#b4e89a" stroke-width="2.05" stroke-opacity="0.5"/>
<path d="M56.7 42.3h0M129.9 26.0h0M137.1 194.5h0M508.1 204.8h0M506.5 216.7h0M496.2 208.0h0M479.9 207.9h0M501.5 214.3h0M514.2 217.3h0M507.3 217.3h0M486.2 203.4h0M489.7 213.5h0M479.5 200.9h0M508.9 200.1h0M502.0 201.2h0M493.3 201.2h0M519.3 204.1h0M486.6 202.7h0M489.5 204.6h0" stroke="#b4e89a" stroke-width="1.5" stroke-opacity="0.9"/>
<path d="M58.0 37.4h0M107.1 14.8h0M470.3 91.4h0M527.1 28.2h0M134.7 245.5h0M515.8 246.0h0M483.1 250.6h0M528.2 202.4h0" stroke="#f8431d" stroke-width="2.05"/>
<path d="M67.5 34.7h0M87.4 23.6h0M498.1 27.4h0M142.3 228.6h0M119.4 178.4h0M498.3 248.4h0M465.4 251.7h0" stroke="#f8431d" stroke-width="2.05" stroke-opacity="0.7"/>
<path d="M86.5 14.5h0M116.6 21.3h0M532.1 68.2h0M536.2 49.9h0M65.7 217.0h0M538.6 236.6h0" stroke="#2f9ff0" stroke-width="1.75" stroke-opacity="0.7"/>
<path d="M99.0 22.6h0M492.8 25.8h0M504.4 20.0h0M70.0 201.4h0M463.1 246.8h0" stroke="#2fc3ea" stroke-width="2.05" stroke-opacity="0.7"/>
<path d="M110.9 18.0h0M122.0 22.2h0M534.0 60.1h0M514.9 83.6h0M457.0 65.6h0M477.7 25.9h0M516.7 24.3h0M526.6 20.8h0M149.9 236.4h0M132.2 236.6h0M54.8 217.7h0M59.9 208.3h0M118.1 189.4h0M133.6 194.5h0M141.5 214.9h0M529.5 230.3h0" stroke="#6de8c3" stroke-width="1.75"/>
<path d="M114.1 14.8h0M141.1 31.5h0M145.8 52.3h0M478.0 19.1h0M528.1 216.3h0M451.8 206.2h0" stroke="#6de8c3" stroke-width="2.05" stroke-opacity="0.5"/>
<path d="M115.3 20.7h0M457.3 54.6h0M475.0 29.5h0M527.9 44.1h0" stroke="#2f9ff0" stroke-width="2.05" stroke-opacity="0.7"/>
<path d="M137.3 24.4h0M130.8 182.4h0M527.3 226.9h0M465.6 248.1h0M527.0 182.9h0M526.7 205.6h0" stroke="#2fc3ea" stroke-width="2.05" stroke-opacity="0.5"/>
<path d="M138.1 27.9h0M470.9 75.1h0M147.4 220.7h0M489.1 183.8h0" stroke="#e3b860" stroke-width="2.05"/>
<path d="M135.9 36.3h0M127.4 246.7h0" stroke="#5a48e8" stroke-width="2.05" stroke-opacity="0.5"/>
<path d="M125.4 94.8h0M93.4 93.6h0M119.4 92.7h0M91.0 80.0h0M115.7 82.1h0M87.8 94.5h0M103.2 85.0h0M111.9 81.6h0M90.7 87.3h0M115.3 88.7h0M116.4 86.7h0M123.9 94.4h0M113.3 83.5h0M106.1 87.6h0M114.0 81.8h0M123.5 85.6h0M117.9 93.4h0M109.9 81.7h0M104.4 83.8h0M112.0 83.1h0M96.7 85.3h0M117.1 83.7h0M117.5 85.7h0M100.8 84.1h0M97.0 84.2h0M247.7 35.7h0M250.0 59.0h0M280.6 85.7h0M286.2 92.0h0M291.8 95.6h0M321.5 41.6h0M325.5 52.0h0M322.5 50.5h0M274.2 227.5h0M291.6 181.9h0M291.6 185.3h0M292.5 183.5h0M319.0 244.0h0" stroke="#2f9ff0" stroke-width="1.6" stroke-opacity="0.9"/>
<path d="M106.7 83.5h0M89.3 80.3h0M111.3 84.0h0M98.7 82.7h0M126.1 93.6h0M109.3 84.0h0M92.7 79.4h0M99.8 84.9h0M95.4 88.3h0M112.1 83.1h0M95.0 94.9h0M122.6 85.4h0M119.7 82.6h0M94.9 94.4h0M93.2 89.1h0M111.8 91.1h0M99.7 81.0h0M114.1 87.2h0M124.8 89.0h0M119.3 82.5h0M128.0 79.6h0M100.5 83.7h0M108.5 84.4h0M102.4 87.5h0M98.8 82.1h0M103.1 85.5h0M102.1 87.1h0M112.8 82.0h0M115.6 80.2h0M107.8 81.6h0M99.6 86.6h0M106.1 84.7h0M97.1 81.7h0M107.6 81.3h0M110.0 81.8h0M111.3 85.9h0M107.0 87.4h0M117.7 83.6h0M96.7 82.4h0M115.7 80.1h0M113.3 85.9h0M275.5 93.0h0M320.5 40.8h0M274.6 229.5h0M295.3 179.7h0M293.2 184.5h0M287.4 258.4h0" stroke="#2fc3ea" stroke-width="1.6" stroke-opacity="0.9"/>
<path d="M102.4 90.0h0M98.3 91.7h0M102.3 90.4h0M109.7 90.9h0M261.5 18.3h0M261.8 33.2h0M261.8 85.2h0M344.7 35.1h0M292.0 187.0h0" stroke="#6de8c3" stroke-width="1.6" stroke-opacity="0.9"/>
<path d="M102.0 93.3h0M93.0 87.8h0M115.9 83.0h0M269.4 56.5h0M271.6 83.5h0M331.0 44.2h0M343.9 46.4h0M345.3 61.0h0M331.5 51.5h0M267.2 242.4h0M348.7 213.4h0M329.0 221.9h0M295.3 173.5h0M288.0 186.8h0M290.6 186.4h0" stroke="#b4e89a" stroke-width="1.6" stroke-opacity="0.9"/>
<path d="M92.2 86.5h0M110.6 94.5h0M90.8 87.8h0M119.8 80.7h0M127.2 95.0h0" stroke="#f8431d" stroke-width="1.6" stroke-opacity="0.9"/>
<path d="M104.0 81.9h0M101.1 83.5h0M106.0 80.4h0M99.2 86.4h0M104.0 80.0h0M113.7 86.8h0M263.7 78.7h0M324.0 45.0h0M327.0 44.5h0M328.0 54.0h0M292.5 177.7h0M322.0 250.5h0" stroke="#e3b860" stroke-width="1.6" stroke-opacity="0.9"/>
<path d="M89.8 87.0h0M92.8 86.8h0M92.4 86.1h0M90.6 87.2h0M89.8 86.8h0M91.4 87.8h0M91.7 87.6h0M90.0 87.0h0" stroke="#b4e89a" stroke-width="1.4"/>
<path d="M124.0 19.0h0" stroke="#3a63f0" stroke-width="2.0"/>
<path d="M139.7 54.8h0M140.0 53.8h0M139.8 54.1h0M140.1 54.0h0" stroke="#f8431d" stroke-width="1.6"/>
<path d="M315.4 46.8h0M308.6 51.2h0M310.3 41.0h0M303.1 44.1h0M299.6 44.1h0M302.3 47.6h0M300.0 53.2h0M304.1 38.0h0M312.9 47.2h0M300.8 52.1h0M307.4 50.5h0M300.2 51.5h0M298.8 57.9h0M298.3 48.5h0M305.9 51.9h0M304.1 54.0h0M295.6 49.2h0M303.8 45.4h0M312.9 43.2h0M304.8 38.4h0M306.5 39.2h0M299.7 59.6h0M309.8 48.8h0M306.0 39.7h0M298.6 52.1h0M296.0 50.7h0M296.5 49.9h0M300.0 59.1h0M311.4 45.1h0M296.9 45.2h0M304.6 41.6h0M306.8 56.8h0M304.5 45.3h0M310.2 46.5h0M310.6 46.4h0M314.1 47.3h0M298.5 49.8h0M301.3 42.4h0M304.0 55.1h0M296.0 49.1h0M303.8 47.7h0M309.5 40.6h0M309.5 47.1h0M305.7 47.0h0M302.7 44.8h0M307.2 61.3h0M311.6 55.5h0M308.9 45.2h0M308.2 61.1h0M298.2 54.8h0M311.8 51.5h0M309.7 58.8h0M314.4 55.9h0M314.4 51.7h0M310.9 50.8h0M307.4 45.5h0M309.2 59.3h0M304.2 51.7h0M309.8 49.7h0M311.6 51.6h0M299.2 43.0h0M310.3 54.6h0M312.5 51.6h0M306.7 39.6h0M313.0 43.9h0M311.4 42.2h0M301.0 51.0h0M302.8 44.2h0M311.3 54.9h0M308.4 46.9h0M300.3 46.1h0M301.9 49.6h0M310.8 48.4h0M300.6 45.1h0M313.4 51.0h0M307.3 52.2h0M309.8 51.0h0M312.5 55.5h0M295.7 49.4h0M315.1 45.1h0M306.5 58.1h0M305.8 59.4h0M299.3 42.3h0M304.5 44.0h0M299.2 54.1h0M307.7 50.1h0M302.9 52.2h0M305.0 44.1h0M309.3 53.1h0M306.4 55.6h0M298.9 48.9h0M302.8 59.1h0M308.1 61.3h0M314.3 47.6h0M299.1 53.5h0M284.1 193.6h0M298.4 189.2h0M293.0 188.9h0M304.8 203.4h0M306.2 197.9h0M298.4 199.1h0M286.2 203.0h0M282.3 198.9h0M301.5 202.2h0M291.2 214.3h0M294.6 196.4h0M295.8 196.9h0M289.8 198.5h0M309.0 201.8h0M295.9 207.7h0M308.9 200.3h0M290.1 214.4h0M281.1 199.0h0M298.4 214.2h0M288.2 189.4h0M300.9 197.2h0M289.8 205.9h0M296.5 204.4h0M290.0 211.6h0M307.3 201.9h0M289.3 208.1h0M298.7 193.3h0M289.5 210.2h0M292.9 198.6h0M296.4 201.4h0M294.0 189.4h0M308.2 203.0h0M285.8 209.3h0M297.5 201.9h0M300.6 213.6h0M298.6 212.7h0M308.1 196.1h0M288.6 208.3h0M280.0 199.9h0M304.8 209.0h0M298.4 189.8h0M309.2 204.7h0M301.9 205.9h0M282.2 193.5h0M285.7 212.6h0M285.4 199.6h0M291.2 206.9h0M299.5 204.1h0M288.0 189.3h0M295.9 204.2h0M305.7 200.9h0M287.5 205.3h0M281.8 194.9h0M283.9 204.1h0M308.5 206.1h0M305.1 203.6h0M297.1 197.6h0M292.2 188.7h0M284.2 193.0h0M302.3 207.2h0M302.8 211.6h0M291.0 210.4h0M308.9 201.6h0M304.7 200.3h0M280.3 202.6h0M285.4 202.6h0M288.9 204.6h0M282.5 211.0h0M306.3 199.0h0M284.6 201.7h0M301.1 205.4h0M297.0 189.5h0M284.8 210.8h0M296.1 190.7h0M286.8 191.7h0M285.2 210.2h0M291.8 210.9h0M295.7 190.6h0M289.7 214.2h0M286.8 193.5h0M305.9 202.4h0M293.9 212.7h0M279.8 204.5h0M285.4 192.1h0M286.5 210.5h0M292.9 189.5h0M285.3 211.7h0M303.1 193.6h0M309.6 199.7h0M282.4 200.6h0M301.4 212.3h0M304.3 198.2h0M289.1 191.1h0M293.2 196.2h0M296.3 191.7h0M288.7 194.2h0M283.9 193.4h0M285.1 193.1h0M300.3 202.6h0M281.9 205.6h0M296.6 212.6h0M291.8 199.7h0M286.5 202.8h0M299.5 203.3h0M291.2 206.9h0M295.1 204.1h0M284.3 203.5h0M284.6 195.0h0M295.2 214.4h0M304.3 201.7h0M292.2 210.1h0M305.0 209.8h0M291.9 203.5h0M290.3 199.0h0M285.0 199.5h0M280.2 195.3h0M298.4 193.8h0M299.0 191.8h0M289.9 205.4h0M284.0 196.0h0M309.3 198.2h0M286.6 196.7h0M294.4 201.4h0M303.4 208.0h0M289.5 198.4h0M283.6 192.5h0M286.5 207.9h0M295.3 208.9h0M303.8 200.3h0M308.9 198.6h0M287.2 197.8h0M305.3 200.6h0M286.2 205.5h0M305.2 200.8h0M291.5 210.7h0M303.2 209.0h0M285.8 204.2h0M296.9 189.8h0M305.7 202.5h0M291.7 214.5h0M295.6 195.2h0M293.3 206.9h0M302.7 201.2h0M285.4 195.9h0M286.3 193.5h0M293.8 197.1h0M294.6 194.4h0M284.9 200.1h0M290.6 211.0h0M284.6 203.5h0M293.6 191.4h0M301.9 203.2h0M279.2 205.2h0M303.1 195.3h0M308.1 202.8h0M283.0 206.2h0M290.7 191.4h0M278.7 203.2h0M286.4 207.2h0M298.3 196.9h0M289.8 213.4h0M307.5 206.6h0M290.4 193.4h0M290.8 213.2h0M299.1 199.0h0M282.2 203.0h0M284.7 201.8h0M301.0 210.1h0M295.6 198.5h0M295.8 213.7h0M297.4 191.2h0M307.5 203.5h0M309.9 199.9h0M292.9 198.9h0M298.1 196.4h0M284.4 191.3h0M292.6 196.9h0M289.9 214.1h0M301.4 210.2h0M288.5 204.5h0M291.6 199.8h0M301.7 206.9h0M297.5 203.1h0M281.7 196.4h0M298.3 198.3h0M285.8 204.8h0M284.9 196.2h0M303.1 198.6h0M306.6 205.5h0M301.4 210.4h0" stroke="#f47a3c" stroke-width="1.7"/>
<path d="M305.0 50.3h0M302.8 53.1h0M306.6 52.7h0M307.0 47.6h0M301.2 50.3h0M303.9 48.9h0M309.0 50.6h0M310.1 51.6h0M308.2 53.0h0M308.2 46.9h0M309.3 51.4h0M303.0 53.2h0M307.0 55.4h0M308.4 52.4h0M302.6 55.2h0M309.9 53.4h0M307.3 55.2h0M303.4 53.6h0M306.1 47.2h0M307.3 52.4h0M310.0 53.7h0M302.9 46.4h0M305.7 50.1h0M303.6 46.5h0M305.4 46.8h0M303.9 54.2h0M306.8 48.0h0M302.6 50.3h0M288.8 203.8h0M290.3 202.1h0M295.1 209.2h0M295.3 210.1h0M293.0 203.7h0M295.9 208.2h0M295.3 201.0h0M294.2 198.5h0M300.4 206.9h0M297.6 205.3h0M292.7 202.1h0M299.0 200.6h0M292.7 209.6h0M301.4 205.1h0M298.1 204.9h0M301.0 202.3h0M295.9 206.4h0M301.1 203.0h0M296.6 201.6h0M292.6 201.1h0M295.9 208.0h0M292.4 201.3h0M293.6 205.7h0M298.2 199.1h0M297.0 199.7h0M298.5 200.0h0M291.1 201.1h0M295.2 199.6h0M296.5 204.7h0M295.9 205.3h0M299.2 200.9h0M295.5 203.9h0M289.0 205.2h0M292.1 200.9h0M293.3 204.5h0M297.1 206.3h0M292.4 207.1h0M297.5 202.1h0M295.4 207.7h0M297.5 207.2h0M296.0 208.8h0M302.1 205.3h0M290.9 209.0h0M293.3 198.7h0M288.8 205.2h0M299.7 207.9h0M294.0 209.6h0M295.1 201.2h0M295.8 205.1h0M295.7 205.9h0M289.9 208.0h0M292.9 206.9h0M291.9 204.7h0M294.8 198.1h0M297.3 206.9h0M292.3 198.0h0M292.7 200.4h0M296.0 203.9h0M301.2 206.3h0M294.2 204.8h0M285.6 241.8h0" stroke="#f47a3c" stroke-width="1.6"/>
<path d="M314.4 47.0h0M314.1 45.5h0M304.4 55.5h0M300.7 50.4h0M298.4 54.3h0M312.5 45.5h0M307.1 46.6h0M299.6 59.4h0" stroke="#2f9ff0" stroke-width="1.0"/>
<path d="M309.7 56.2h0M308.5 51.4h0M313.7 42.7h0M303.7 46.6h0M304.4 55.5h0M301.9 41.3h0M299.1 53.3h0M311.4 55.7h0M314.1 46.8h0M311.7 54.9h0M304.7 44.1h0M311.2 45.0h0M304.0 42.7h0M314.6 49.7h0M302.4 48.0h0M304.2 50.7h0M298.0 43.7h0M308.8 57.8h0M299.5 50.8h0M303.4 38.7h0M303.9 42.1h0M311.4 48.4h0M305.6 40.3h0M306.5 39.0h0M307.0 59.3h0M299.1 55.6h0M313.7 48.6h0M312.6 50.6h0M303.6 39.0h0M300.5 41.2h0M290.2 209.1h0M280.7 203.3h0M281.2 209.3h0M300.2 190.2h0M289.4 191.7h0M280.1 199.0h0M286.0 209.3h0M289.0 193.2h0M293.0 205.2h0M302.1 205.7h0M281.8 196.2h0M292.0 194.7h0M301.6 198.8h0M293.1 198.3h0M294.3 191.1h0M308.6 198.4h0M288.4 190.7h0M293.1 191.6h0M296.9 210.7h0M300.2 197.8h0M305.7 200.2h0M293.3 202.1h0M288.8 205.2h0M285.3 191.6h0M304.6 196.3h0M290.0 204.5h0M289.5 192.7h0M291.9 193.9h0M299.6 197.8h0M291.2 208.0h0M283.1 193.1h0M300.3 210.7h0M294.8 195.6h0M305.1 205.5h0M301.2 191.0h0M292.6 193.4h0M283.6 206.0h0M301.3 197.7h0M291.6 211.6h0M300.8 200.5h0M299.3 202.5h0M282.5 197.8h0M296.8 206.9h0M283.3 195.9h0M289.0 191.4h0M304.3 205.1h0M301.9 190.7h0M287.8 212.6h0M284.6 191.8h0M295.8 212.5h0M300.0 194.1h0M299.7 205.1h0M296.7 205.0h0M301.3 210.0h0M305.0 208.6h0M292.7 190.0h0M298.5 191.3h0M307.9 195.9h0M282.9 192.7h0M298.1 204.2h0" stroke="#8ff0d4" stroke-width="1.0"/>
<path d="M282.6 10.8h0M282.6 12.6h0M270.2 18.8h0M258.0 24.7h0M270.0 30.0h0M253.0 31.8h0M253.3 41.6h0M256.7 75.3h0M321.0 55.0h0M322.8 57.6h0M348.9 52.6h0M266.6 243.0h0M248.3 212.9h0M250.3 214.8h0" stroke="#f47a3c" stroke-width="1.6" stroke-opacity="0.9"/>
<path d="M340.2 51.7h0" stroke="#5a48e8" stroke-width="1.6" stroke-opacity="0.9"/>
<path d="M318.6 50.4h0M317.5 48.7h0M318.4 49.1h0M318.3 51.3h0M317.6 49.3h0M317.6 48.7h0M317.9 51.9h0M318.1 51.4h0M317.1 50.6h0M317.0 49.6h0" stroke="#b4e89a" stroke-width="1.2"/>
<path d="M320.0 50.9h0M319.7 49.0h0M318.4 49.2h0M319.0 47.5h0M318.5 49.2h0M319.3 49.9h0M319.4 49.0h0M320.6 49.8h0M320.1 50.5h0M319.8 47.8h0M319.1 47.4h0M319.9 48.4h0M320.0 50.1h0M318.9 49.2h0M320.6 49.1h0M320.4 48.8h0M318.8 48.7h0M318.5 49.7h0M319.2 50.5h0M318.7 49.1h0M460.2 66.2h0M457.3 64.8h0M457.5 69.6h0M458.8 71.4h0M459.6 66.6h0M461.6 65.2h0M457.7 62.8h0M459.1 68.1h0M460.0 65.8h0M457.3 66.5h0M460.9 62.3h0M460.7 62.8h0M459.8 65.0h0M460.7 70.4h0M459.4 64.3h0M457.8 63.6h0M460.0 68.6h0M457.5 69.1h0M458.6 68.1h0M459.6 71.7h0M459.3 67.1h0M458.1 69.5h0M459.4 65.1h0M459.5 67.5h0M460.7 63.2h0M460.1 66.3h0M458.1 67.3h0M461.3 61.9h0M458.6 63.5h0M461.9 64.7h0M488.0 248.5h0M490.9 249.3h0M487.9 251.5h0M491.8 250.2h0M486.1 249.6h0M489.2 248.1h0M488.2 248.3h0M487.5 251.2h0M492.2 249.6h0M490.6 248.0h0M490.5 250.6h0M487.7 252.5h0M490.0 252.8h0M486.5 251.4h0M487.3 252.4h0M492.5 249.5h0M490.7 250.7h0M488.6 248.7h0M491.4 251.7h0M492.8 250.4h0M487.7 252.3h0M492.4 252.7h0M490.9 250.1h0M490.5 250.4h0M489.6 247.6h0M492.6 250.5h0M487.1 250.1h0M491.4 251.7h0M488.7 252.1h0M492.1 251.1h0M490.4 248.4h0M490.5 249.8h0M488.1 251.9h0M491.4 249.9h0M488.8 251.4h0M490.3 251.3h0M489.2 250.2h0M490.8 253.8h0M489.0 253.0h0M489.8 248.3h0" stroke="#2f9ff0" stroke-width="1.2"/>
<path d="M465.4 70.9h0M456.6 67.7h0M458.1 68.0h0M463.4 69.8h0M461.2 66.0h0M461.5 71.3h0M460.7 71.3h0M456.6 61.9h0M460.2 64.4h0M463.5 56.3h0M460.7 61.6h0M458.8 69.7h0M467.1 72.8h0M466.4 71.9h0M457.3 68.3h0M463.5 73.1h0M456.8 60.4h0M460.0 69.0h0M463.7 56.3h0M466.2 72.9h0M456.8 63.6h0M462.2 71.1h0M461.4 69.4h0M458.5 59.1h0M461.7 68.6h0M461.9 71.4h0M458.2 62.5h0M462.6 72.5h0M460.3 63.0h0M455.8 65.0h0M460.9 66.4h0M458.0 59.9h0M459.4 57.7h0M458.8 60.9h0M462.7 57.0h0M463.1 73.1h0M461.4 71.5h0M460.2 55.8h0M457.6 62.8h0M456.3 67.8h0M456.1 66.3h0M464.0 71.9h0M462.5 69.8h0M458.5 62.6h0M456.9 61.2h0M462.9 71.2h0M464.5 70.7h0M460.0 59.9h0M462.1 72.9h0M456.6 68.0h0M460.8 69.6h0M458.1 57.5h0M460.6 60.2h0M457.1 65.6h0M460.1 60.1h0M459.4 56.1h0M457.6 58.9h0M457.0 64.8h0M459.0 63.2h0M458.7 56.9h0M459.6 65.6h0M460.9 60.0h0M459.5 71.6h0M464.3 72.0h0M463.1 70.3h0M459.0 60.4h0M456.4 60.0h0M456.9 65.2h0M459.5 70.1h0M460.1 57.9h0M458.3 63.5h0M459.2 60.7h0M459.8 56.0h0M456.3 68.0h0M460.5 58.0h0M456.6 61.8h0M460.1 67.9h0M461.2 55.6h0M466.7 72.7h0M460.3 66.1h0M466.9 72.1h0M457.3 65.6h0M461.4 59.4h0M458.2 62.7h0M459.6 61.1h0M457.7 61.1h0M460.4 56.5h0M457.7 64.6h0M456.6 66.3h0M462.4 56.8h0M462.3 72.8h0M459.1 60.1h0M465.6 71.8h0M460.2 66.0h0M461.7 71.2h0M459.1 64.8h0M462.6 55.5h0M464.5 54.6h0M459.9 69.6h0M465.9 71.6h0M464.5 70.4h0M459.0 58.1h0M457.2 59.4h0M460.8 61.3h0M458.2 60.3h0M461.6 73.0h0M460.6 60.6h0M460.8 55.5h0M462.5 68.5h0M456.9 65.9h0M461.0 71.0h0M457.2 67.4h0M458.0 61.6h0M461.1 72.6h0M460.9 57.7h0M461.1 57.3h0M461.0 65.9h0M457.9 66.5h0M462.1 57.0h0M462.2 69.8h0M457.8 60.0h0M460.4 60.5h0M460.8 58.0h0M460.5 70.7h0M458.2 58.1h0M463.8 70.8h0M460.9 55.2h0M458.1 62.6h0M459.8 68.3h0M458.4 57.3h0M457.2 61.0h0M461.7 59.3h0M457.7 67.0h0M460.7 63.0h0M463.3 72.0h0M460.1 57.3h0M456.6 67.2h0M465.3 71.4h0M461.6 57.7h0M460.3 60.7h0M460.7 60.4h0M456.7 68.7h0M462.3 71.9h0M457.2 60.5h0M463.9 54.8h0M462.8 54.7h0M459.2 70.2h0M460.4 71.5h0M458.9 71.4h0M461.3 59.7h0M457.3 58.2h0M456.5 61.9h0M457.1 58.7h0M457.9 70.4h0M457.8 58.9h0M464.3 72.1h0M458.9 65.0h0M463.1 72.7h0M457.5 57.8h0M457.7 61.2h0M463.8 54.7h0M460.8 60.1h0M455.7 64.9h0M460.3 70.5h0M466.8 71.5h0M457.0 68.0h0M460.2 61.8h0M460.5 69.2h0M466.9 72.2h0M462.4 56.4h0M457.8 67.3h0M457.1 65.2h0M457.6 67.1h0M463.7 71.5h0M457.5 69.4h0M460.2 61.4h0M464.4 54.7h0M460.1 64.2h0M463.8 72.5h0M459.8 70.9h0M461.9 68.9h0M459.3 64.3h0M460.1 70.9h0M462.5 55.9h0M466.8 71.4h0M458.8 57.9h0M461.1 56.6h0M463.6 55.6h0M460.2 68.5h0M461.8 58.6h0M456.8 62.1h0M461.6 55.4h0M464.6 71.2h0M458.1 62.7h0M460.4 56.3h0M458.5 62.8h0M464.3 55.5h0M461.6 55.1h0M461.1 55.9h0M458.8 67.4h0M465.4 73.2h0M462.7 76.3h0M470.4 74.4h0M454.2 74.5h0M457.7 77.7h0M461.0 67.2h0M460.0 66.3h0M463.2 79.1h0M468.1 75.2h0M455.2 67.1h0M459.8 79.0h0M458.0 65.2h0M459.7 75.9h0M460.1 64.3h0M454.4 71.8h0M456.6 74.6h0M468.7 67.9h0M459.6 73.7h0M461.3 78.9h0M466.7 65.4h0M453.7 71.1h0M468.8 70.0h0M456.5 66.7h0M455.3 67.9h0M454.6 71.6h0M456.2 77.5h0M466.3 78.7h0M465.4 65.5h0M457.2 68.2h0M465.5 77.4h0M453.2 71.0h0M459.6 64.5h0M454.3 73.1h0M465.8 77.3h0M468.4 68.4h0M466.1 77.1h0M77.2 203.8h0M82.4 206.5h0M76.0 207.1h0M78.8 207.0h0M77.5 204.3h0M78.3 204.8h0M77.4 207.0h0M77.4 206.4h0M79.7 202.9h0M79.8 203.1h0M80.4 207.4h0M76.5 204.7h0M77.7 204.2h0M79.7 203.0h0M528.4 242.7h0M529.0 243.4h0M527.1 243.0h0M527.4 243.0h0M528.2 243.3h0M527.5 242.0h0M526.5 242.7h0M527.7 240.6h0M527.7 241.0h0M526.4 243.1h0M526.8 241.5h0M529.1 242.5h0M527.4 241.2h0M527.0 241.4h0M527.1 241.0h0M527.1 240.8h0" stroke="#2fc3ea" stroke-width="1.4"/>
<path d="M469.9 60.8h0M470.1 71.2h0M462.8 66.7h0M462.2 65.7h0M462.8 58.6h0M473.8 63.3h0M466.3 56.2h0M475.4 64.4h0M467.2 68.6h0M461.7 62.6h0M465.1 65.9h0M461.3 68.5h0M470.4 68.7h0M465.7 72.0h0M466.1 57.6h0M461.1 60.0h0M472.4 56.7h0M463.8 66.8h0M472.6 59.5h0M466.1 69.5h0M467.7 60.1h0M468.9 62.9h0M466.0 63.1h0M472.4 64.9h0M467.8 58.8h0M463.8 61.2h0M466.6 60.6h0M463.9 59.7h0M471.6 65.9h0M471.8 69.5h0M462.7 62.7h0M465.0 57.5h0M471.3 59.8h0M473.8 59.9h0M472.3 57.8h0M471.5 62.1h0M468.0 65.2h0M473.5 67.1h0M474.5 60.8h0M467.5 66.4h0M465.9 68.4h0M469.9 58.5h0M461.1 64.1h0M464.1 56.0h0M464.6 62.7h0M463.1 60.4h0M470.1 67.2h0M471.0 65.0h0M466.2 65.8h0M468.6 71.9h0M461.4 57.7h0M460.9 61.9h0M463.6 65.5h0M471.7 71.5h0M465.0 64.1h0M468.0 57.2h0M468.0 55.1h0M463.0 63.9h0M474.5 65.4h0M462.3 61.2h0M464.3 58.6h0M467.7 67.6h0M464.7 70.8h0M469.0 66.6h0M471.9 67.3h0M459.3 61.3h0M469.2 68.8h0M461.1 66.3h0M464.6 68.4h0M472.9 70.4h0M473.0 68.4h0M470.0 69.8h0M469.7 63.6h0M469.7 56.2h0M469.1 67.7h0M471.6 56.0h0M466.1 70.8h0M476.0 63.0h0M471.0 57.5h0M460.6 65.3h0M475.5 59.9h0M472.7 63.0h0M467.5 56.2h0M470.7 63.5h0M467.8 70.9h0M465.9 62.0h0M462.9 69.0h0M474.7 66.5h0M469.9 62.2h0M463.3 56.7h0M468.0 62.1h0M470.4 72.4h0M474.8 62.1h0M468.6 64.1h0M460.1 59.3h0M469.8 64.7h0M466.1 59.6h0M473.8 58.1h0M470.8 61.4h0M475.7 61.4h0M465.8 66.8h0M468.9 60.5h0M463.6 70.4h0M461.8 67.4h0M467.3 63.1h0M465.4 58.8h0M473.4 62.1h0M469.0 57.7h0M462.2 57.1h0M465.2 56.1h0M472.8 60.5h0M459.7 62.4h0M466.7 64.8h0M466.6 58.8h0M465.2 61.1h0M472.4 61.5h0M467.9 69.7h0M463.1 67.6h0M470.7 54.9h0M466.9 61.8h0M464.9 69.4h0M468.9 70.4h0M468.7 55.9h0M460.7 63.1h0M471.4 68.3h0M460.6 67.3h0M473.5 64.7h0M469.6 65.8h0M467.3 72.0h0M459.4 60.2h0M471.5 58.8h0M461.9 59.3h0M475.0 63.3h0M475.0 58.6h0M467.1 57.9h0M472.6 66.3h0M464.9 60.0h0M469.6 59.6h0M469.1 55.0h0M464.7 67.2h0M470.9 70.3h0M464.0 63.6h0M463.8 57.6h0M473.5 65.7h0M470.6 56.5h0M471.8 64.0h0" stroke="#7aeab8" stroke-width="1.45"/>
<path d="M470.3 60.6h0M464.4 61.4h0M468.6 64.6h0M471.0 64.1h0M470.8 65.0h0M469.6 58.2h0M466.9 64.1h0M468.2 63.7h0M465.0 59.6h0M468.2 58.0h0M471.3 59.4h0M468.5 57.5h0M469.6 64.9h0M469.8 59.3h0M492.9 234.0h0M495.2 232.5h0M495.1 234.2h0M488.9 233.0h0M489.9 232.0h0M492.2 233.4h0M490.0 234.5h0M495.3 234.5h0M488.4 233.3h0M495.6 233.8h0M493.1 231.5h0M491.6 235.2h0M489.3 234.1h0M494.0 232.4h0M494.3 231.7h0M489.7 231.6h0" stroke="#ffffff" stroke-width="1.1"/>
<path d="M459.6 60.8h0M458.4 60.0h0M459.6 60.4h0M459.4 61.8h0M459.5 60.5h0M460.1 61.8h0M460.4 61.5h0M458.7 60.0h0M461.2 61.6h0M459.5 59.9h0M458.6 60.0h0M458.8 62.0h0M460.7 59.1h0M459.0 59.7h0M462.2 72.9h0M461.2 73.8h0M462.5 72.5h0M460.0 72.4h0M460.0 71.5h0M461.0 71.2h0M460.5 72.9h0M460.5 73.8h0M518.3 238.5h0M519.6 239.3h0M520.7 238.9h0M517.7 239.2h0M518.7 238.1h0M517.5 238.6h0M519.6 238.2h0M518.5 239.1h0M520.5 238.4h0M517.5 237.5h0M518.8 237.7h0M517.5 238.5h0M519.4 238.2h0M519.5 238.2h0" stroke="#f47a3c" stroke-width="1.3"/>
<path d="M460.7 69.8h0M463.9 71.0h0M462.1 70.2h0M462.0 70.1h0M462.1 71.6h0M461.7 71.2h0M460.9 70.4h0M463.6 70.4h0M462.2 70.3h0M462.9 70.7h0M462.1 70.6h0M462.6 72.0h0M460.4 41.1h0M461.7 45.3h0M462.8 41.8h0M464.6 44.0h0M465.0 43.2h0M461.7 43.3h0" stroke="#e3b860" stroke-width="1.3"/>
<path d="M468.2 53.8h0M469.9 54.2h0M467.6 54.9h0M470.1 54.8h0M469.0 55.0h0M468.5 55.1h0M116.1 201.3h0M116.6 199.7h0M116.2 201.1h0M116.1 199.3h0M117.2 199.9h0M116.2 199.6h0M117.2 200.0h0M116.9 201.0h0M115.8 200.6h0M115.3 200.5h0M117.5 200.7h0M117.7 200.7h0M115.5 200.0h0M115.5 200.5h0M127.3 207.7h0M128.0 209.3h0M128.2 207.4h0M129.1 207.4h0M128.2 209.2h0M127.2 207.7h0" stroke="#f47a3c" stroke-width="1.2"/>
<path d="M525.1 55.0h0M452.5 40.4h0M510.5 14.3h0M71.5 197.9h0M545.7 205.9h0M529.6 214.2h0" stroke="#f47a3c" stroke-width="1.75" stroke-opacity="0.7"/>
<path d="M542.9 63.5h0M463.2 35.3h0M501.5 12.3h0" stroke="#b4e89a" stroke-width="2.05" stroke-opacity="0.7"/>
<path d="M537.8 75.5h0M465.5 27.3h0" stroke="#5a48e8" stroke-width="1.75" stroke-opacity="0.5"/>
<path d="M536.5 77.4h0M448.3 43.7h0M73.2 237.6h0M510.9 186.6h0" stroke="#f47a3c" stroke-width="1.5" stroke-opacity="0.9"/>
<path d="M516.9 72.5h0M457.9 73.5h0M139.8 239.7h0M463.3 195.2h0" stroke="#6de8c3" stroke-width="1.5" stroke-opacity="0.9"/>
<path d="M513.6 75.0h0M451.6 204.2h0" stroke="#e3b860" stroke-width="2.05" stroke-opacity="0.7"/>
<path d="M521.7 85.3h0M116.3 180.7h0" stroke="#2f9ff0" stroke-width="2.05"/>
<path d="M516.0 82.3h0M459.8 28.8h0M534.6 39.4h0M528.3 53.3h0M124.8 185.9h0M528.8 240.9h0M464.2 248.6h0M451.9 195.8h0M496.1 187.7h0" stroke="#2fc3ea" stroke-width="1.75"/>
<path d="M519.4 88.6h0" stroke="#e3b860" stroke-width="1.5" stroke-opacity="0.9"/>
<path d="M511.5 85.5h0M71.0 248.9h0M486.4 190.2h0" stroke="#2fc3ea" stroke-width="2.05" stroke-opacity="0.9"/>
<path d="M504.2 87.1h0" stroke="#2f9ff0" stroke-width="1.5" stroke-opacity="0.9"/>
<path d="M480.0 81.7h0M70.1 224.1h0M529.1 233.3h0M457.5 229.3h0" stroke="#e3b860" stroke-width="1.5" stroke-opacity="0.7"/>
<path d="M466.1 63.9h0M518.3 239.1h0M459.0 221.2h0M471.0 197.2h0M532.9 209.1h0" stroke="#2f9ff0" stroke-width="1.75" stroke-opacity="0.9"/>
<path d="M448.6 58.7h0M458.2 56.4h0M114.0 251.8h0M538.6 228.4h0M512.1 236.9h0" stroke="#2fc3ea" stroke-width="1.5" stroke-opacity="0.7"/>
<path d="M448.9 47.9h0" stroke="#5a48e8" stroke-width="2.05" stroke-opacity="0.9"/>
<path d="M457.2 46.4h0M528.8 35.9h0M466.9 228.7h0M536.1 195.9h0" stroke="#f47a3c" stroke-width="1.5" stroke-opacity="0.5"/>
<path d="M468.7 39.3h0M496.4 10.3h0M532.3 31.5h0M142.7 244.7h0M133.8 251.0h0M77.7 239.4h0M489.9 241.0h0M461.2 226.0h0" stroke="#f8431d" stroke-width="1.5" stroke-opacity="0.7"/>
<path d="M458.8 29.5h0" stroke="#5a48e8" stroke-width="1.5" stroke-opacity="0.9"/>
<path d="M482.1 15.3h0M535.7 38.8h0M69.0 222.2h0M133.4 185.9h0M525.1 223.2h0" stroke="#2f9ff0" stroke-width="1.5" stroke-opacity="0.5"/>
<path d="M490.7 27.7h0M486.4 239.9h0M536.6 189.4h0" stroke="#6de8c3" stroke-width="2.05" stroke-opacity="0.9"/>
<path d="M511.2 25.6h0M516.5 32.4h0M521.0 239.8h0M472.6 189.2h0M525.2 204.8h0" stroke="#2f9ff0" stroke-width="2.05" stroke-opacity="0.9"/>
<path d="M544.0 46.3h0M100.8 249.1h0M88.9 246.9h0M113.1 174.4h0M464.8 225.4h0" stroke="#e3b860" stroke-width="1.75"/>
<path d="M503.0 25.8h0M503.4 28.2h0M504.4 26.1h0M504.9 29.3h0M505.9 29.2h0M506.5 28.0h0M504.9 29.0h0M503.9 28.2h0M117.0 200.2h0M117.3 199.1h0M119.3 200.0h0M117.8 199.1h0M118.3 199.7h0M116.6 199.8h0M114.2 202.2h0M116.9 199.6h0M116.8 201.4h0M114.6 200.8h0M119.3 200.0h0M114.9 199.1h0M115.8 203.0h0M114.2 199.3h0M135.1 223.2h0M127.4 220.4h0M129.6 224.0h0M134.8 221.9h0M135.7 218.8h0M135.3 220.3h0M131.9 217.4h0M134.0 224.6h0M135.2 221.8h0M136.0 220.0h0M473.7 247.4h0M473.3 248.5h0M476.7 248.0h0M472.6 247.5h0M476.9 240.2h0M476.9 247.5h0M473.2 244.8h0M479.0 240.3h0M481.5 244.5h0M479.6 243.1h0M473.9 244.6h0M474.6 248.7h0M479.5 240.9h0M474.2 246.7h0M479.5 248.0h0M476.1 246.9h0M489.4 253.6h0M485.7 248.0h0M493.4 252.2h0M493.0 251.3h0M483.7 251.2h0M491.5 246.7h0M485.3 252.9h0M492.9 252.7h0M487.8 248.9h0M486.6 255.3h0M493.9 251.7h0M493.5 248.4h0M493.5 249.7h0M486.5 249.7h0M490.9 247.1h0M487.8 250.6h0M491.7 251.2h0M484.5 252.9h0M487.3 251.6h0M492.9 247.0h0M507.9 252.8h0M504.0 253.0h0M504.9 239.0h0M504.8 240.4h0M507.9 241.6h0M508.9 242.7h0M512.6 242.9h0M503.4 250.8h0M506.3 240.5h0M506.2 239.1h0" stroke="#2fc3ea" stroke-width="1.3"/>
<path d="M488.6 60.2h0M498.1 55.7h0M495.4 61.4h0M486.6 56.4h0M488.0 55.6h0M489.6 51.9h0M496.4 56.7h0M484.8 58.9h0M503.7 61.9h0M494.8 61.4h0M489.0 70.5h0M492.9 67.2h0M483.6 54.5h0M301.0 251.5h0" stroke="#b4e89a" stroke-width="1.6" stroke-opacity="0.7"/>
<path d="M494.2 48.0h0M492.0 66.0h0M294.0 232.5h0M275.0 251.0h0M291.0 252.0h0M313.0 251.0h0" stroke="#f47a3c" stroke-width="1.6" stroke-opacity="0.7"/>
<path d="M503.6 66.3h0M496.4 54.4h0M330.5 245.5h0" stroke="#e3b860" stroke-width="1.6" stroke-opacity="0.7"/>
<path d="M104.7 224.7h0M98.2 223.6h0M115.4 223.9h0M119.2 213.9h0M105.1 213.5h0M94.3 218.5h0M108.3 233.5h0M112.4 209.0h0M98.6 230.7h0M102.2 207.2h0M108.3 217.3h0M91.8 213.0h0M117.3 211.4h0M109.8 226.9h0M118.8 223.4h0M93.1 221.7h0M112.7 220.1h0M97.4 214.7h0M93.9 229.9h0M105.6 209.1h0M105.1 228.3h0M120.8 217.5h0M88.3 227.6h0M101.9 226.2h0M103.3 221.4h0M116.7 219.1h0M100.9 215.3h0M104.3 234.4h0M114.3 227.4h0M106.9 222.7h0M98.3 220.4h0M108.9 209.4h0M95.2 210.5h0M106.2 219.4h0M114.5 212.9h0M121.8 221.1h0M105.0 216.6h0M113.2 231.7h0M86.5 216.7h0M87.9 221.2h0M110.6 222.9h0M91.8 226.3h0M108.4 213.3h0M98.9 209.8h0M121.5 226.0h0M111.1 215.1h0M101.2 218.6h0M113.4 217.1h0M99.9 233.4h0M118.5 229.4h0M95.2 232.6h0M90.6 217.2h0M94.9 227.0h0M101.3 229.1h0M88.8 224.6h0M107.5 206.7h0M102.7 211.1h0M85.3 222.7h0M93.8 215.5h0M88.6 212.4h0M109.3 230.3h0M97.4 207.1h0M117.2 226.4h0M111.1 211.8h0M105.5 231.4h0M98.4 227.2h0M115.7 208.8h0M90.8 229.7h0M102.5 231.8h0M107.8 232.0h0M118.6 227.3h0M111.4 232.7h0M113.0 230.2h0M107.3 235.3h0M87.3 227.4h0M101.9 232.9h0M89.9 229.3h0M113.7 232.3h0M95.7 232.3h0M90.6 229.4h0M101.9 235.0h0M118.7 226.5h0M115.8 228.6h0M106.2 234.3h0M104.3 233.3h0M92.2 228.3h0M118.4 230.7h0M120.0 225.6h0M109.7 233.6h0M88.9 229.2h0M103.9 232.8h0M97.2 231.8h0M100.9 233.7h0M119.5 224.5h0M88.2 224.4h0M113.7 232.6h0M105.0 233.2h0M96.0 231.6h0M98.0 233.7h0M120.3 229.0h0M93.8 229.7h0M115.5 232.2h0M123.1 224.7h0M116.0 231.3h0M86.8 226.2h0M88.8 224.3h0M115.4 228.8h0M87.4 225.6h0M87.7 228.5h0M117.0 228.4h0M113.0 231.1h0M115.0 231.5h0M121.0 224.7h0" stroke="#aee48e" stroke-width="1.7"/>
<path d="M114.9 181.0h0M115.9 190.8h0M108.5 187.5h0M120.4 186.9h0M118.5 190.4h0M112.8 181.3h0M116.6 186.3h0M109.5 189.1h0M115.2 188.6h0M111.8 183.8h0M112.9 190.2h0M116.5 185.0h0M116.7 191.2h0M112.8 182.1h0M113.6 187.9h0M116.4 190.0h0M114.5 189.8h0M113.2 189.6h0M119.3 186.7h0M117.7 188.8h0M115.6 182.5h0M121.1 186.9h0M116.6 185.8h0M112.4 181.8h0M115.9 185.3h0M111.9 187.6h0M111.7 181.2h0M114.6 191.5h0M111.9 184.1h0M112.5 187.2h0M119.4 190.8h0M109.7 185.9h0M111.6 187.8h0M119.3 189.5h0M117.5 189.5h0M114.4 189.7h0M110.7 188.7h0M113.9 188.8h0M113.1 182.9h0M115.9 183.0h0M108.7 185.4h0M110.0 189.1h0M109.3 183.1h0M114.3 189.9h0M110.7 186.9h0M121.3 185.4h0M117.3 184.0h0M113.0 190.9h0M116.4 186.7h0M119.5 185.2h0M117.2 190.1h0M116.2 190.2h0M111.0 184.2h0M113.4 180.8h0M115.6 186.9h0M108.3 187.4h0M117.4 191.9h0M115.7 183.7h0M114.1 184.3h0M118.4 186.4h0M116.9 184.7h0M111.5 191.4h0M120.5 188.1h0M108.8 184.2h0M116.6 192.1h0M109.6 189.3h0M119.8 188.0h0M113.4 187.9h0M113.8 183.0h0M118.8 188.3h0M110.9 182.2h0M119.7 190.3h0M111.2 186.3h0M114.1 184.3h0M110.8 190.2h0M111.5 186.4h0M119.6 190.2h0M110.3 182.6h0M119.4 190.8h0M111.5 188.3h0M114.8 186.8h0M119.4 187.9h0M119.6 182.2h0M121.8 187.4h0M121.1 185.6h0M114.8 187.5h0M111.2 191.3h0M119.7 190.8h0M108.4 186.6h0M109.9 189.7h0M118.9 187.4h0M119.8 183.5h0M118.0 184.5h0M119.0 188.4h0M109.3 184.2h0M111.7 187.6h0M115.5 184.4h0M118.3 185.6h0M117.2 182.9h0M116.4 183.9h0M114.2 189.7h0M109.4 188.7h0M112.7 187.5h0M110.9 190.3h0M113.3 191.1h0M109.0 185.8h0M113.7 180.6h0M116.0 189.9h0M113.6 187.7h0M110.6 190.7h0M117.8 185.6h0M108.9 185.9h0M109.4 187.1h0M112.6 186.9h0M112.4 187.2h0M110.4 189.6h0M119.8 182.9h0M112.1 184.1h0M112.8 187.4h0M116.2 186.3h0M117.0 185.3h0M110.6 190.3h0M114.9 181.8h0M116.9 186.6h0M109.1 187.5h0M119.4 185.8h0M115.4 185.7h0M109.7 188.3h0M114.4 182.2h0M111.9 188.3h0M119.2 189.9h0M109.4 187.7h0M121.8 186.0h0M114.9 187.0h0M113.6 189.2h0M115.3 185.0h0M115.7 188.4h0M112.6 184.2h0M119.4 182.1h0M112.8 189.5h0M119.4 189.4h0M119.3 186.7h0M115.9 188.9h0M119.9 184.5h0M120.2 186.8h0M117.7 183.6h0M114.2 188.4h0M117.5 187.0h0M114.5 184.9h0M116.1 184.7h0M117.7 187.4h0M118.9 182.5h0M109.3 186.6h0M119.7 188.5h0M118.1 183.8h0M113.0 183.7h0M115.4 192.3h0M116.0 190.9h0M114.2 183.9h0M119.8 187.7h0M272.8 225.9h0M269.8 226.5h0M270.2 223.9h0M273.2 226.2h0M269.5 225.2h0M273.3 226.6h0M269.5 226.7h0M268.2 225.6h0M272.2 225.3h0M271.6 223.7h0M271.1 226.2h0M269.5 225.7h0M271.1 223.5h0M270.1 226.3h0M268.6 225.5h0M272.0 224.0h0M270.9 226.7h0M272.8 224.3h0M273.4 225.9h0M271.6 227.2h0M272.9 226.0h0M273.3 226.3h0M273.8 225.4h0M269.0 226.8h0M273.0 226.2h0M271.5 225.4h0M271.6 224.2h0M273.0 225.6h0M269.4 225.8h0M270.6 225.4h0M508.5 246.8h0M508.5 245.0h0M505.6 251.4h0M508.1 247.7h0M503.4 249.2h0M506.0 242.8h0M506.8 249.5h0M511.4 246.1h0M509.4 249.8h0M502.8 249.2h0M511.7 246.6h0M499.7 248.5h0M505.7 244.5h0M502.9 250.9h0M508.9 245.9h0M510.5 248.0h0M510.7 248.8h0M499.0 246.2h0M506.6 250.4h0M510.6 247.2h0M506.1 244.7h0M508.3 242.8h0M503.6 250.9h0M499.1 244.7h0M505.5 244.8h0M499.1 246.6h0M501.3 246.3h0M500.8 241.4h0M506.9 241.6h0M504.8 247.3h0M509.2 246.0h0M505.7 251.3h0M507.7 246.3h0M501.0 248.3h0M505.2 244.9h0M501.8 242.9h0M499.3 246.2h0M499.7 243.6h0M511.2 248.0h0M511.8 247.7h0M507.6 248.5h0M510.1 244.9h0M503.4 243.0h0M501.8 241.8h0M500.0 241.4h0M506.8 248.3h0M506.5 247.1h0M503.0 251.0h0M503.9 241.3h0M505.4 242.3h0M505.0 246.3h0M504.0 244.1h0M503.4 245.0h0M507.7 240.7h0M505.7 245.3h0M498.3 246.3h0M507.1 247.8h0M498.9 243.0h0M508.3 250.6h0M504.4 246.0h0M506.9 241.7h0M507.2 239.9h0M506.9 241.6h0M503.3 246.8h0M505.5 246.4h0M504.6 242.1h0M503.6 247.8h0M500.0 243.5h0M509.8 248.6h0M503.5 247.4h0M507.3 249.6h0M507.1 240.0h0M505.0 242.0h0M510.8 247.4h0M499.7 246.0h0M502.3 247.5h0M506.1 246.8h0M501.3 249.2h0M501.9 242.4h0M506.1 243.0h0M510.1 243.7h0M503.6 242.5h0M510.4 244.2h0M499.6 248.0h0M500.7 250.2h0M506.5 249.1h0M501.2 249.6h0M507.7 240.1h0M500.2 246.5h0M505.9 251.5h0M507.2 244.8h0M506.2 242.9h0M509.3 246.2h0M501.4 243.1h0M501.5 245.0h0M506.9 250.9h0M509.5 250.0h0M507.1 249.1h0M507.7 244.8h0M499.1 246.8h0M503.2 240.8h0M502.0 249.9h0M499.7 246.2h0M503.5 246.0h0M506.2 247.6h0M511.0 247.0h0M508.6 242.3h0M505.6 249.0h0M504.0 243.2h0M505.4 249.8h0M510.0 246.1h0M510.9 243.4h0M504.8 246.8h0M508.9 242.2h0M500.2 247.6h0M503.0 245.9h0M498.4 247.3h0M506.5 242.8h0M504.9 241.5h0M507.5 239.9h0M509.6 241.2h0M511.9 243.9h0M508.7 242.6h0M510.1 248.2h0M499.9 245.1h0M506.5 250.7h0M508.3 241.9h0M504.5 248.6h0M500.8 245.3h0M501.1 249.9h0M511.3 247.2h0M507.4 247.9h0M501.8 243.2h0M498.3 246.4h0M502.0 246.4h0M506.2 249.2h0M507.0 242.7h0M503.1 250.1h0M503.6 246.5h0M507.4 242.0h0M510.0 245.5h0M500.7 248.8h0M511.2 245.3h0M508.2 243.8h0M511.1 246.9h0M503.4 247.6h0M507.1 250.7h0M506.6 250.5h0M505.8 249.7h0M499.1 246.0h0" stroke="#a6e081" stroke-width="1.2"/>
<path d="M102.0 245.1h0M116.3 238.2h0M109.1 248.5h0M107.7 237.7h0M116.0 242.4h0M104.2 236.7h0M104.4 246.6h0M105.9 241.8h0M107.3 241.2h0M104.7 248.0h0M111.2 237.8h0M104.2 238.9h0M111.2 247.0h0M107.0 245.8h0M104.0 240.3h0M116.2 248.4h0M115.5 243.6h0M115.1 249.1h0M108.8 249.9h0M108.6 241.2h0M99.2 244.2h0M114.3 239.0h0M102.0 240.4h0M108.3 244.6h0M112.3 250.7h0M108.9 246.9h0M109.6 243.6h0M106.0 236.5h0M113.8 245.6h0M118.3 243.3h0M107.8 242.8h0M105.8 243.3h0M101.5 241.3h0M108.1 239.4h0M117.1 244.5h0M109.1 237.3h0M115.7 245.0h0M115.9 239.9h0M100.5 241.1h0M99.6 242.5h0M111.3 240.1h0M104.2 237.7h0M102.5 238.7h0M104.5 249.6h0M101.0 245.8h0M113.5 249.3h0M114.6 250.5h0M113.7 246.6h0M112.1 248.3h0M114.3 248.2h0M114.6 237.7h0M101.5 247.4h0M111.7 249.2h0M109.2 239.6h0M109.9 240.4h0M114.6 246.4h0M111.0 245.7h0M115.5 247.2h0M118.4 240.7h0M114.2 243.0h0M104.2 244.7h0M109.6 245.6h0M113.0 236.8h0M113.1 238.8h0M105.4 245.7h0M102.9 239.9h0M101.7 243.5h0M116.8 241.2h0M104.7 242.8h0M103.0 244.0h0M111.3 244.4h0M107.1 243.8h0M111.0 251.0h0M105.3 238.7h0M102.7 241.8h0M111.9 236.6h0M110.9 243.5h0M102.8 246.9h0M118.2 245.6h0M102.9 248.3h0M117.5 246.5h0M117.8 239.6h0M106.5 240.1h0M110.5 248.8h0M110.1 247.2h0M107.6 248.1h0M113.3 250.9h0M115.3 238.7h0M112.3 241.1h0M107.4 246.7h0M112.8 243.8h0M104.0 242.0h0M101.6 239.5h0M108.6 238.4h0M107.5 251.1h0M113.3 240.7h0M107.9 250.2h0M110.2 237.6h0M102.6 242.9h0M106.5 247.7h0M112.7 245.3h0M107.0 249.1h0M112.9 242.9h0M113.4 247.7h0M110.2 236.5h0M109.6 251.7h0M106.7 252.1h0M105.3 246.7h0M107.5 238.7h0M110.9 242.4h0M100.2 244.6h0M105.8 251.2h0M110.7 241.0h0M112.2 246.4h0M112.4 239.6h0M115.3 241.5h0M106.5 238.5h0M116.8 243.0h0M117.0 248.0h0M100.7 242.4h0M113.6 241.9h0M104.0 243.5h0M99.1 243.3h0M102.9 237.6h0M115.8 246.2h0M109.7 241.7h0M105.7 244.6h0M108.1 236.5h0M116.7 245.4h0M110.9 239.2h0M106.5 237.4h0M114.7 244.8h0M106.4 246.6h0M118.4 244.6h0M114.5 240.2h0M110.2 249.8h0M108.2 251.6h0M110.3 244.9h0M116.6 247.0h0M105.2 240.0h0M113.9 244.3h0M109.9 238.8h0M100.4 243.5h0M103.2 246.1h0M106.4 250.1h0M117.4 238.6h0M118.4 242.3h0M108.4 245.9h0M99.3 241.2h0M105.6 249.3h0M102.1 246.2h0M105.3 237.5h0M101.7 242.3h0M105.0 243.8h0M105.1 241.1h0M112.3 237.6h0M100.5 246.7h0M109.5 250.6h0M106.8 242.0h0M105.7 248.3h0M109.3 242.7h0M103.5 249.2h0M101.2 244.5h0M107.1 236.7h0M117.0 240.1h0M113.4 237.7h0M105.0 250.7h0M103.8 247.3h0M114.3 241.2h0M109.3 244.7h0M103.1 241.0h0M112.0 238.6h0" stroke="#a6e081" stroke-width="1.45"/>
<path d="M131.9 221.9h0M132.2 216.9h0M130.7 218.5h0M131.7 217.6h0M131.9 219.1h0M129.2 218.2h0M134.1 217.7h0M130.3 217.9h0M130.3 217.1h0M133.4 217.0h0M130.8 222.1h0M129.9 219.8h0M132.5 219.3h0M131.4 222.0h0M130.1 220.9h0M129.3 218.7h0M133.0 219.9h0M131.8 221.6h0M130.6 218.6h0M134.2 218.3h0M130.9 221.3h0M133.2 217.3h0M134.2 221.8h0M133.0 219.8h0M133.3 222.9h0M133.8 220.0h0M132.8 218.2h0M133.1 217.1h0M130.2 219.7h0M129.2 218.4h0M133.2 221.8h0M130.7 216.7h0M132.3 218.2h0M129.4 220.9h0M132.5 219.8h0M134.4 219.6h0M130.8 219.8h0M128.4 219.4h0M134.1 217.9h0M130.0 217.2h0M475.3 241.7h0M476.2 244.8h0M477.2 241.7h0M476.9 246.3h0M477.5 241.7h0M478.4 243.1h0M476.6 245.2h0M477.5 241.6h0M476.2 241.4h0M479.6 244.9h0M475.1 242.3h0M477.1 245.5h0M476.4 243.1h0M474.8 244.0h0M476.0 244.7h0M477.7 244.0h0M473.2 245.5h0M474.4 243.8h0M476.2 247.3h0M477.0 241.9h0M473.9 244.5h0M475.8 243.9h0M473.1 245.3h0M479.6 244.2h0M476.3 241.8h0M477.4 241.7h0M476.5 242.4h0M474.9 243.8h0M476.7 244.7h0M476.9 243.2h0M476.6 242.4h0M474.8 245.3h0M475.5 243.9h0M477.7 243.4h0M477.2 243.6h0M474.9 243.2h0M477.2 244.5h0M473.4 244.0h0M478.4 245.5h0M475.1 244.3h0" stroke="#f8431d" stroke-width="1.2"/>
<path d="M132.2 200.8h0M131.3 199.8h0M132.3 201.0h0M131.5 201.2h0M128.6 200.8h0M130.4 202.0h0M131.3 200.6h0M129.2 199.9h0M130.4 200.3h0M131.8 201.8h0M129.7 201.9h0M131.9 200.6h0M130.6 202.7h0M128.9 200.3h0M131.1 202.8h0M129.2 202.4h0M132.4 201.0h0M132.2 200.0h0M129.8 202.3h0M129.1 202.7h0M129.7 201.2h0M132.1 200.8h0M132.5 201.3h0M131.3 200.3h0" stroke="#2fc3ea" stroke-width="1.2"/>
<path d="M125.6 213.2h0M131.3 210.7h0M131.7 211.5h0M125.4 201.2h0M122.9 207.1h0M118.4 207.9h0M123.1 206.0h0M128.0 209.8h0M122.3 201.0h0M125.6 199.5h0M122.9 212.7h0M130.7 215.0h0M126.0 200.5h0M125.7 216.2h0M123.8 202.9h0M123.0 211.6h0M121.8 212.0h0M131.1 206.9h0M125.6 209.0h0M124.5 199.5h0M127.9 210.8h0M130.6 215.0h0M120.5 210.1h0M119.6 207.1h0M133.5 211.4h0M121.4 210.1h0M123.5 200.8h0M129.9 215.3h0M127.8 205.1h0M129.9 215.0h0M121.1 205.7h0M121.6 203.7h0M122.0 209.8h0M129.5 209.4h0M127.2 202.3h0M119.6 209.8h0M120.4 207.4h0M129.5 214.8h0M127.6 200.4h0M128.8 208.4h0M121.9 203.6h0M129.5 202.4h0M127.2 207.9h0M123.8 211.2h0M120.0 205.3h0M134.0 207.4h0M124.5 208.9h0M126.2 206.7h0M118.1 208.7h0M126.8 212.4h0M127.9 210.5h0M126.3 215.5h0M127.0 206.6h0M131.2 209.3h0M134.1 206.6h0M129.4 205.6h0M128.6 210.1h0" stroke="#2fc3ea" stroke-width="1.35" stroke-opacity="0.9"/>
<path d="M125.6 208.7h0M127.0 205.4h0M124.8 201.8h0M126.0 205.5h0M118.9 208.2h0M133.3 207.1h0M133.8 208.6h0M122.0 202.8h0M126.8 200.5h0M129.3 203.4h0M124.2 206.3h0M129.1 213.4h0" stroke="#e3b860" stroke-width="1.35" stroke-opacity="0.9"/>
<path d="M121.4 204.8h0M118.7 208.5h0M128.9 211.2h0M130.0 205.2h0M130.9 208.1h0M123.0 205.5h0M124.0 203.8h0M124.1 210.8h0M126.8 204.5h0M129.9 213.9h0M122.6 208.4h0M130.2 213.4h0M123.4 210.1h0M124.3 208.1h0" stroke="#f47a3c" stroke-width="1.35" stroke-opacity="0.9"/>
<path d="M121.4 202.5h0M124.7 206.0h0M120.6 205.7h0M127.6 206.5h0M127.8 210.1h0M129.0 205.7h0M130.6 211.4h0M129.4 212.2h0M130.3 210.7h0M121.4 201.4h0M126.8 209.0h0M122.6 209.2h0M125.0 213.5h0M126.8 206.5h0M129.6 205.0h0M123.8 200.9h0M127.2 213.1h0M124.8 208.7h0M127.8 212.7h0M122.0 210.6h0M132.1 204.7h0M131.6 209.1h0M124.2 209.8h0M122.4 207.7h0M126.0 207.0h0" stroke="#2f9ff0" stroke-width="1.35" stroke-opacity="0.9"/>
<path d="M127.9 211.6h0M122.3 208.4h0M129.0 209.0h0M127.7 208.4h0M127.2 214.6h0M124.4 207.7h0M124.3 203.2h0M132.5 205.4h0" stroke="#6de8c3" stroke-width="1.35" stroke-opacity="0.9"/>
<path d="M126.6 209.2h0M124.9 208.0h0M121.7 204.6h0M132.2 211.7h0M126.0 216.2h0M128.0 204.1h0M121.4 208.3h0M132.4 204.9h0M118.9 203.0h0M123.9 204.9h0M124.1 203.6h0M120.3 209.2h0M118.2 206.5h0M126.9 201.5h0" stroke="#b4e89a" stroke-width="1.35" stroke-opacity="0.9"/>
<path d="M115.3 192.8h0M119.7 192.1h0M121.7 190.4h0M114.9 193.8h0M122.5 186.4h0M118.6 192.8h0M123.0 185.9h0M121.1 190.0h0M116.0 192.7h0M119.7 190.9h0M121.1 189.4h0M120.9 191.4h0M122.3 185.5h0M122.7 185.8h0M114.3 193.5h0M116.3 193.6h0M122.7 187.8h0M116.8 193.0h0" stroke="#2fc3ea" stroke-width="1.3" stroke-opacity="0.9"/>
<path d="M110.9 251.7h0M505.4 249.1h0" stroke="#e3b860" stroke-width="2.05" stroke-opacity="0.5"/>
<path d="M57.8 214.1h0M83.6 186.5h0M135.6 192.6h0M527.4 216.9h0M528.2 211.8h0" stroke="#6de8c3" stroke-width="1.5"/>
<path d="M92.4 176.4h0M458.6 215.6h0" stroke="#5a48e8" stroke-width="2.05" stroke-opacity="0.7"/>
<path d="M126.4 180.2h0M462.1 212.0h0" stroke="#5a48e8" stroke-width="2.05"/>
<path d="M143.8 199.8h0M449.5 199.4h0" stroke="#e3b860" stroke-width="2.05" stroke-opacity="0.9"/>
<path d="M278.8 197.8h0M284.6 200.8h0M297.5 203.6h0M303.0 196.3h0M297.4 200.5h0M294.1 204.6h0M290.9 203.6h0M293.7 210.0h0M292.8 204.5h0M309.3 204.7h0M298.9 210.1h0M284.5 207.2h0M301.7 205.4h0M303.2 207.7h0M304.9 196.9h0M298.6 197.0h0M305.7 202.7h0M281.9 202.5h0M285.0 208.9h0M291.7 189.4h0M290.2 209.8h0M297.5 196.2h0M300.7 206.5h0M306.0 207.7h0M297.8 195.1h0M297.1 204.4h0M294.2 205.5h0M283.0 206.0h0M294.1 204.9h0M292.9 199.0h0M296.7 208.3h0M290.5 204.6h0M286.1 205.2h0M294.2 192.0h0M304.3 195.3h0M294.7 191.9h0M280.5 205.9h0M285.2 191.2h0M292.2 190.9h0M292.4 213.3h0M289.7 204.9h0M300.0 203.9h0M293.0 212.4h0M293.1 204.9h0M295.0 192.0h0" stroke="#2f9ff0" stroke-width="1.1"/>
<path d="M297.5 202.2h0M300.5 207.4h0M303.9 191.9h0M288.1 197.7h0M285.3 205.1h0M293.1 203.0h0M281.4 195.7h0M293.3 197.7h0M287.5 200.7h0M291.3 193.3h0M307.2 197.3h0M300.6 206.7h0M303.4 197.2h0M284.3 205.2h0M295.7 189.2h0M278.6 199.1h0M289.8 199.3h0M298.1 194.0h0M309.0 205.8h0M305.9 203.7h0M279.1 203.1h0M288.2 205.5h0M292.8 207.4h0M285.2 198.7h0M294.1 195.3h0M289.2 206.9h0M308.6 200.4h0M301.4 193.4h0M289.1 204.6h0M299.5 193.8h0M300.4 203.0h0M305.0 208.1h0M299.8 198.3h0M296.7 194.6h0M287.9 190.7h0M283.8 193.6h0M292.9 202.6h0M281.8 201.0h0M298.0 209.1h0M292.9 203.7h0" stroke="#b4e89a" stroke-width="1.0"/>
<path d="M282.6 232.5h0M309.5 247.5h0" stroke="#6de8c3" stroke-width="1.4" stroke-opacity="0.7"/>
<path d="M309.0 230.0h0" stroke="#2fc3ea" stroke-width="1.6"/>
<path d="M281.0 238.0h0M306.5 241.5h0" stroke="#f47a3c" stroke-width="1.4" stroke-opacity="0.9"/>
<path d="M285.0 241.2h0" stroke="#2f9ff0" stroke-width="1.8"/>
<path d="M297.0 240.0h0" stroke="#2f9ff0" stroke-width="1.4" stroke-opacity="0.7"/>
<path d="M310.5 241.5h0" stroke="#f47a3c" stroke-width="1.8" stroke-opacity="0.9"/>
<path d="M315.0 243.0h0" stroke="#b4e89a" stroke-width="1.8"/>
<path d="M323.4 238.7h0" stroke="#f47a3c" stroke-width="1.8"/>
<path d="M333.0 240.0h0" stroke="#6de8c3" stroke-width="1.8"/>
<path d="M291.0 245.7h0M317.5 248.5h0" stroke="#f47a3c" stroke-width="1.4" stroke-opacity="0.7"/>
<path d="M298.0 245.7h0M279.0 246.0h0M523.6 240.8h0M510.6 238.0h0M527.4 236.5h0M509.4 237.2h0M528.7 235.5h0M518.1 235.8h0M533.0 239.0h0M507.6 235.0h0M528.9 240.3h0M530.1 240.2h0M526.6 242.1h0M517.2 242.2h0M526.0 240.9h0M507.6 235.9h0M514.1 237.0h0M529.5 237.2h0M512.3 238.8h0M507.1 237.8h0M527.5 239.8h0M522.5 239.3h0M507.0 231.1h0M529.5 243.6h0M523.4 246.2h0M510.8 237.5h0M510.7 234.3h0M505.4 232.5h0M516.9 239.2h0M517.8 237.2h0M515.6 240.6h0M513.9 235.9h0M523.5 240.0h0M513.6 233.6h0M518.8 244.8h0M525.8 237.5h0M517.4 240.4h0M515.8 231.0h0M505.5 238.6h0M508.3 237.8h0M517.4 235.0h0M513.2 237.6h0M505.2 237.0h0M505.7 236.8h0M507.8 233.8h0M518.1 242.5h0M522.5 242.5h0M513.0 235.7h0M511.6 235.3h0M527.2 238.1h0M516.9 236.6h0M518.3 236.4h0M506.1 233.5h0M523.6 237.9h0M532.5 241.1h0M525.8 233.5h0M525.3 238.5h0M513.5 234.2h0M532.4 238.5h0M513.1 238.7h0M513.9 236.4h0M508.3 233.6h0M506.9 231.7h0M512.9 238.9h0M517.1 236.4h0M526.1 239.5h0M518.2 237.0h0M507.1 235.6h0M505.2 233.9h0M522.4 237.7h0M519.3 238.3h0M531.6 241.3h0" stroke="#2fc3ea" stroke-width="1.4" stroke-opacity="0.9"/>
<path d="M301.0 244.5h0" stroke="#b4e89a" stroke-width="1.8" stroke-opacity="0.9"/>
<path d="M326.8 243.8h0M314.0 236.5h0" stroke="#2fc3ea" stroke-width="1.4" stroke-opacity="0.7"/>
<path d="M329.5 249.4h0" stroke="#b4e89a" stroke-width="1.4" stroke-opacity="0.9"/>
<path d="M281.0 255.6h0M312.0 244.8h0M521.3 238.6h0M513.8 239.7h0M516.7 238.8h0M506.0 234.4h0M525.2 235.3h0M505.6 235.0h0M517.4 237.0h0M522.3 242.5h0M527.5 237.4h0M520.2 239.9h0M529.6 239.9h0M520.3 238.4h0M519.9 240.1h0M529.7 241.5h0M518.7 233.7h0M525.9 240.6h0M512.5 237.6h0M531.4 238.1h0M507.7 235.9h0" stroke="#2f9ff0" stroke-width="1.4" stroke-opacity="0.9"/>
<path d="M295.3 257.8h0" stroke="#6de8c3" stroke-width="1.4"/>
<path d="M306.5 257.0h0" stroke="#f47a3c" stroke-width="1.8" stroke-opacity="0.7"/>
<path d="M303.0 236.0h0M506.9 235.3h0M525.7 238.2h0M515.2 240.6h0M514.7 238.2h0M527.2 241.1h0M523.1 233.7h0M532.5 236.5h0M531.4 238.9h0M516.1 239.9h0M510.8 231.1h0M530.7 235.5h0M515.5 237.5h0M528.8 242.1h0M516.0 233.4h0M523.5 234.7h0M528.0 242.8h0M522.6 240.8h0M522.3 239.9h0M525.7 236.2h0M521.1 243.7h0M510.6 236.5h0M508.5 235.8h0M513.6 236.1h0M507.7 239.8h0M532.4 236.1h0M510.2 235.7h0M524.1 239.0h0M509.9 234.8h0M529.2 237.3h0M523.5 238.0h0" stroke="#6de8c3" stroke-width="1.4" stroke-opacity="0.9"/>
<path d="M288.5 236.5h0M325.5 255.5h0" stroke="#6de8c3" stroke-width="1.8" stroke-opacity="0.9"/>
<path d="M318.0 255.0h0" stroke="#b4e89a" stroke-width="1.8" stroke-opacity="0.7"/>
<path d="M299.5 254.5h0" stroke="#2f9ff0" stroke-width="1.6"/>
<path d="M284.0 250.5h0" stroke="#6de8c3" stroke-width="1.6" stroke-opacity="0.7"/>
<path d="M302.5 241.2h0" stroke="#e3b860" stroke-width="1.8" stroke-opacity="0.7"/>
<path d="M525.7 224.3h0M525.1 219.9h0M529.2 220.5h0M523.9 226.0h0M527.8 222.9h0M520.7 221.3h0M528.9 222.4h0M526.4 222.6h0M526.2 225.1h0M519.0 217.7h0M527.8 217.2h0M526.8 227.5h0M527.2 218.3h0M525.4 224.1h0M521.3 226.7h0M520.8 218.3h0M528.0 225.4h0M518.2 223.7h0M527.5 221.2h0M525.0 225.4h0M526.9 223.2h0M518.8 221.5h0M526.7 220.2h0M520.7 222.3h0M524.4 225.2h0M528.9 223.9h0M524.6 222.2h0M521.8 228.5h0M524.8 217.8h0M523.4 221.1h0M523.6 227.6h0M524.9 218.0h0M519.6 216.6h0M528.4 219.7h0M523.9 214.3h0M520.1 227.8h0M522.6 218.6h0M522.4 226.4h0M524.5 229.9h0M523.5 215.1h0M522.2 220.6h0M520.4 227.7h0M526.2 222.8h0M527.6 227.9h0M522.5 220.5h0M525.2 216.1h0M523.5 216.4h0M527.9 218.8h0M525.3 217.3h0M526.4 221.7h0M528.9 218.7h0M522.4 220.4h0M518.4 223.0h0M527.6 223.7h0M529.9 222.2h0M519.1 222.9h0M524.1 226.2h0M522.0 216.7h0M523.6 227.8h0M520.6 224.6h0M521.7 220.1h0M528.6 222.5h0M523.1 224.3h0M523.3 219.3h0M525.2 222.9h0M523.7 219.1h0M523.3 223.3h0M519.5 219.6h0M527.0 222.7h0M522.9 226.3h0M529.4 222.7h0M521.2 226.1h0M525.5 228.3h0M524.8 225.6h0M525.6 224.9h0M526.1 216.1h0M523.9 215.5h0M527.5 221.0h0M523.0 219.5h0M520.6 225.8h0" stroke="#f8431d" stroke-width="1.0"/>
<path d="M464.0 222.9h0M476.1 220.7h0M466.4 218.7h0M467.6 215.9h0M473.8 222.9h0M469.7 221.6h0M473.4 225.9h0M468.2 226.7h0M473.7 215.1h0M474.4 216.8h0M466.5 222.5h0M473.2 221.3h0M473.7 219.1h0M474.7 226.9h0M475.7 226.5h0M472.5 214.6h0M472.2 228.2h0M470.3 226.5h0M475.2 220.9h0M467.1 224.2h0M462.4 220.4h0M475.4 225.5h0M477.1 223.0h0M470.7 218.4h0M472.7 222.8h0M471.2 220.4h0M462.7 222.3h0M475.9 222.1h0M469.0 215.9h0M465.8 216.2h0M477.7 221.1h0M473.7 224.2h0M472.1 226.2h0M470.6 223.1h0M477.3 224.6h0M464.6 221.4h0M477.1 219.3h0M469.6 224.5h0M471.0 224.1h0M479.1 218.7h0M465.7 223.5h0M465.6 225.0h0M472.9 215.8h0M465.3 219.3h0M474.8 215.2h0M477.3 217.0h0M466.2 220.1h0M474.3 218.0h0M469.1 220.7h0M473.8 220.1h0M469.8 214.8h0M471.7 217.7h0M472.0 215.7h0M462.8 221.4h0M475.1 217.4h0M468.6 223.6h0M470.0 227.4h0M467.0 216.9h0M470.9 219.5h0M464.3 219.2h0M465.6 222.3h0M476.2 224.2h0M465.5 217.6h0M478.3 216.8h0M467.7 219.1h0M467.3 226.1h0M469.4 217.9h0M478.7 221.3h0M468.5 225.5h0M466.6 215.7h0M476.3 216.8h0M470.2 216.8h0M472.7 216.9h0M467.2 223.1h0M476.8 215.8h0M473.8 216.1h0M470.6 228.6h0M469.2 222.5h0M479.5 222.6h0M475.5 223.1h0M471.6 225.1h0M475.9 218.0h0M472.6 219.0h0M472.8 217.9h0M471.2 216.8h0M473.8 227.4h0M477.4 226.0h0M467.6 221.5h0M464.9 216.2h0M472.6 224.9h0M474.6 225.9h0M478.5 222.7h0M478.3 225.3h0M467.9 220.1h0M471.1 227.8h0M469.5 219.5h0M478.1 223.8h0M472.0 221.8h0M470.2 215.8h0M469.3 226.2h0M478.7 219.8h0M477.3 220.3h0M476.4 225.9h0M478.4 215.7h0M466.8 225.2h0M466.3 221.1h0M475.0 219.9h0M468.0 224.6h0M479.0 223.7h0M474.9 224.1h0M476.9 221.9h0M468.3 216.9h0M474.7 222.3h0M472.3 223.9h0M471.3 214.9h0M479.8 220.5h0M469.5 223.4h0M464.4 218.0h0M479.7 221.6h0M477.9 217.9h0M469.0 227.3h0M463.6 220.3h0M467.7 218.1h0M464.8 224.4h0M472.6 220.6h0M468.1 215.1h0M470.5 221.1h0M471.1 226.0h0M477.9 218.9h0M472.8 227.0h0M475.2 218.8h0M464.9 220.2h0M468.0 222.6h0M468.6 221.4h0M475.7 215.8h0M476.9 217.8h0M471.6 223.1h0M476.9 214.9h0M470.4 225.1h0M476.2 219.0h0M478.9 217.7h0M473.6 217.2h0" stroke="#90e2a8" stroke-width="1.45"/>
<path d="M473.2 226.4h0M474.3 225.0h0M472.3 219.5h0M475.7 223.0h0M474.9 225.9h0M475.9 224.9h0M477.2 221.5h0M475.9 217.9h0M469.1 222.7h0M478.2 220.1h0M474.5 219.0h0M472.4 226.0h0M474.1 220.9h0M474.2 219.1h0M468.0 219.2h0M470.6 222.5h0M472.7 224.3h0M468.6 225.5h0M476.1 221.0h0M476.3 219.0h0M471.1 223.6h0M476.1 225.0h0M470.4 217.3h0M473.8 224.8h0M472.6 225.1h0M474.3 217.5h0M474.9 220.4h0M473.4 225.1h0M472.8 225.6h0M474.3 224.8h0M476.8 221.9h0M476.9 223.7h0M473.7 217.3h0M475.4 225.3h0M470.0 223.8h0M469.5 216.9h0M471.8 224.0h0M472.8 226.3h0M468.6 222.9h0M477.8 222.6h0M466.7 219.7h0M466.3 223.1h0M468.4 218.5h0M468.5 218.1h0M470.5 224.4h0" stroke="#e3b860" stroke-width="1.0"/>
<path d="M491.7 242.1h0M484.3 231.1h0M492.0 227.8h0M483.5 238.4h0M492.9 231.0h0M495.6 232.8h0M487.5 231.7h0M490.2 229.6h0M489.8 228.8h0M494.4 239.8h0M492.0 230.6h0M486.1 239.4h0M496.4 229.0h0M496.7 239.4h0M499.7 233.9h0M489.9 226.8h0M491.1 236.0h0M492.8 229.0h0M489.2 239.2h0M493.7 229.4h0M488.2 234.3h0M493.5 237.5h0M492.0 239.2h0M494.3 240.7h0M482.7 232.0h0M484.1 236.1h0M489.6 241.5h0M499.4 236.8h0M500.1 232.4h0M485.2 230.0h0M483.5 235.0h0M485.0 235.8h0M496.7 230.8h0M494.8 236.5h0M498.0 229.4h0M492.4 241.3h0M488.7 237.4h0M491.5 237.8h0M487.7 240.0h0M486.3 235.0h0M484.2 234.4h0M485.2 234.7h0M494.2 230.5h0M485.8 227.6h0M491.0 231.2h0M490.9 239.0h0M498.9 230.2h0M483.7 229.4h0M496.5 237.8h0M495.1 230.1h0M489.9 240.1h0M497.6 231.2h0M493.1 233.7h0M495.7 234.8h0M493.2 231.9h0M497.5 236.1h0M484.7 232.5h0M484.1 228.6h0M483.6 232.4h0M501.1 234.1h0M498.2 233.2h0M490.8 233.8h0M488.7 229.6h0M492.0 236.2h0M487.7 237.0h0M483.6 237.5h0M483.5 230.4h0M497.3 228.4h0M498.0 234.8h0M494.3 228.2h0M481.7 234.7h0M494.3 233.0h0M493.0 238.3h0M486.4 229.8h0M495.1 238.1h0M496.3 236.4h0M490.4 241.0h0M487.3 227.8h0M482.9 233.0h0M494.8 232.1h0M498.3 238.5h0M486.1 240.8h0M501.2 235.4h0M489.6 238.2h0M500.1 234.8h0M486.7 228.9h0M487.1 236.2h0M488.2 241.2h0M485.3 237.9h0M487.9 235.5h0M488.6 231.0h0M489.9 230.7h0M501.0 233.2h0M485.2 231.6h0M499.4 231.2h0M487.7 226.8h0M489.8 232.4h0M492.1 234.4h0M489.5 235.3h0M491.8 226.8h0M482.5 236.8h0M496.0 231.7h0M498.9 234.9h0M493.9 236.6h0M498.3 236.9h0M491.4 229.3h0M487.2 232.8h0M485.7 232.8h0M495.4 228.0h0M487.7 228.7h0M482.6 235.6h0M492.9 239.6h0M487.9 233.3h0M486.6 238.3h0M499.1 232.3h0M495.4 233.9h0M487.2 239.1h0M493.3 241.0h0M497.1 232.8h0M488.6 226.9h0M486.1 236.7h0M497.0 233.9h0M495.8 230.7h0M491.4 240.5h0M482.0 233.5h0M499.5 237.7h0M490.3 242.3h0M488.5 232.5h0M489.2 236.3h0M498.3 231.8h0M483.8 239.5h0M491.8 231.9h0M483.7 233.6h0M485.4 228.8h0M488.3 238.3h0M500.4 236.9h0M487.2 234.2h0M493.1 227.3h0M486.1 234.0h0M486.9 230.8h0M485.1 238.9h0M497.4 238.1h0M490.9 226.5h0M485.1 240.0h0M497.0 229.9h0M488.9 228.2h0M484.5 227.5h0M490.6 228.1h0M489.7 237.1h0M497.6 239.0h0M495.4 240.1h0M491.5 233.0h0M495.6 237.3h0M497.0 235.0h0M485.0 233.6h0M499.8 235.6h0M490.5 238.0h0M494.7 234.5h0M494.4 238.7h0M484.4 238.2h0M489.0 233.7h0M488.6 239.9h0M493.1 234.7h0M481.2 235.6h0M497.1 237.0h0M484.5 237.1h0M486.2 231.9h0M491.2 234.7h0M492.3 237.3h0M498.7 235.8h0M493.8 235.4h0M493.0 236.4h0M482.7 237.7h0M495.4 239.0h0M486.9 241.2h0M487.6 229.7h0M482.9 234.2h0M495.3 235.7h0M495.3 229.0h0M491.0 230.2h0M486.8 237.4h0M494.1 231.4h0M499.4 238.6h0M489.5 231.5h0M492.3 240.4h0" stroke="#a6e081" stroke-width="1.5"/>
<path d="M529.1 239.1h0M513.2 233.3h0M513.8 233.9h0M507.8 231.4h0M529.4 238.7h0M530.3 239.3h0M526.2 241.7h0M509.2 237.6h0M506.4 236.3h0M512.9 239.4h0M530.9 236.2h0M525.8 241.3h0M505.9 236.2h0M506.3 230.3h0M523.3 243.7h0M523.2 240.5h0M523.9 242.3h0M531.0 232.8h0M513.2 240.2h0M527.4 238.3h0M507.4 238.3h0M532.1 239.9h0M511.3 242.1h0M531.0 240.1h0M523.4 240.8h0M515.4 232.9h0M524.0 241.9h0M520.8 233.7h0M523.2 239.1h0M529.2 238.2h0M522.7 241.6h0" stroke="#e3b860" stroke-width="1.4" stroke-opacity="0.9"/>
<path d="M509.3 243.8h0M497.3 252.0h0" stroke="#e3b860" stroke-width="1.5"/>
<path d="M467.6 251.7h0" stroke="#5a48e8" stroke-width="1.75"/>
<path d="M538.5 205.4h0" stroke="#5a48e8" stroke-width="1.5"/>
<path d="M509.0 191.9h0M510.3 192.9h0M508.2 191.6h0M508.7 192.7h0M509.8 191.7h0M509.2 190.5h0M507.6 192.9h0M509.6 191.8h0" stroke="#f8431d" stroke-width="1.1"/>
</g>
<g class="tk">
<text transform="translate(46.9 22.9) scale(0.9 1)" text-anchor="end">40</text>
<text transform="translate(46.9 39.3) scale(0.9 1)" text-anchor="end">20</text>
<text transform="translate(46.9 56.1) scale(0.9 1)" text-anchor="end">0</text>
<text transform="translate(46.9 72.7) scale(0.9 1)" text-anchor="end">-20</text>
<text transform="translate(46.9 89.1) scale(0.9 1)" text-anchor="end">-40</text>
<text transform="translate(63.3 104.8) scale(0.9 1)" text-anchor="middle">-40</text>
<text transform="translate(82.5 104.8) scale(0.9 1)" text-anchor="middle">-20</text>
<text transform="translate(101.3 104.8) scale(0.9 1)" text-anchor="middle">0</text>
<text transform="translate(120.5 104.8) scale(0.9 1)" text-anchor="middle">20</text>
<text transform="translate(139.7 104.8) scale(0.9 1)" text-anchor="middle">40</text>
<text transform="translate(242.0 8.6) scale(0.82 1)" text-anchor="end">15</text>
<text transform="translate(242.0 23.2) scale(0.82 1)" text-anchor="end">10</text>
<text transform="translate(242.0 37.8) scale(0.82 1)" text-anchor="end">5</text>
<text transform="translate(242.0 52.4) scale(0.82 1)" text-anchor="end">0</text>
<text transform="translate(242.0 66.8) scale(0.82 1)" text-anchor="end">-5</text>
<text transform="translate(242.0 81.1) scale(0.82 1)" text-anchor="end">-10</text>
<text transform="translate(242.0 95.4) scale(0.82 1)" text-anchor="end">-15</text>
<text transform="translate(255.3 105.4) scale(0.82 1)" text-anchor="middle">-20</text>
<text transform="translate(279.8 105.4) scale(0.82 1)" text-anchor="middle">-10</text>
<text transform="translate(304.5 105.4) scale(0.82 1)" text-anchor="middle">0</text>
<text transform="translate(329.0 105.4) scale(0.82 1)" text-anchor="middle">10</text>
<text transform="translate(353.1 105.4) scale(0.82 1)" text-anchor="middle">20</text>
<text transform="translate(437.9 23.8) scale(0.9 1)" text-anchor="end">40</text>
<text transform="translate(437.9 39.9) scale(0.9 1)" text-anchor="end">20</text>
<text transform="translate(437.9 55.9) scale(0.9 1)" text-anchor="end">0</text>
<text transform="translate(437.9 72.2) scale(0.9 1)" text-anchor="end">-20</text>
<text transform="translate(437.9 88.3) scale(0.9 1)" text-anchor="end">-40</text>
<text transform="translate(453.8 104.6) scale(0.9 1)" text-anchor="middle">-40</text>
<text transform="translate(473.5 104.6) scale(0.9 1)" text-anchor="middle">-20</text>
<text transform="translate(493.2 104.6) scale(0.9 1)" text-anchor="middle">0</text>
<text transform="translate(513.4 104.6) scale(0.9 1)" text-anchor="middle">20</text>
<text transform="translate(533.4 104.6) scale(0.9 1)" text-anchor="middle">40</text>
<text transform="translate(46.4 183.2) scale(0.86 1)" text-anchor="end">40</text>
<text transform="translate(46.4 201.5) scale(0.86 1)" text-anchor="end">20</text>
<text transform="translate(46.4 219.5) scale(0.86 1)" text-anchor="end">0</text>
<text transform="translate(46.4 237.5) scale(0.86 1)" text-anchor="end">-20</text>
<text transform="translate(46.4 255.5) scale(0.86 1)" text-anchor="end">-40</text>
<text transform="translate(60.4 267.3) scale(0.86 1)" text-anchor="middle">-40</text>
<text transform="translate(81.4 267.3) scale(0.86 1)" text-anchor="middle">-20</text>
<text transform="translate(102.5 267.3) scale(0.86 1)" text-anchor="middle">0</text>
<text transform="translate(123.6 267.3) scale(0.86 1)" text-anchor="middle">20</text>
<text transform="translate(144.7 267.3) scale(0.86 1)" text-anchor="middle">40</text>
<text transform="translate(242.5 174.6) scale(0.82 1)" text-anchor="end">15</text>
<text transform="translate(242.5 184.7) scale(0.82 1)" text-anchor="end">10</text>
<text transform="translate(242.5 195.1) scale(0.82 1)" text-anchor="end">5</text>
<text transform="translate(242.5 205.5) scale(0.82 1)" text-anchor="end">0</text>
<text transform="translate(242.5 215.9) scale(0.82 1)" text-anchor="end">-5</text>
<text transform="translate(242.5 226.3) scale(0.82 1)" text-anchor="end">-10</text>
<text transform="translate(242.5 236.7) scale(0.82 1)" text-anchor="end">-15</text>
<text transform="translate(242.5 247.1) scale(0.82 1)" text-anchor="end">-20</text>
<text transform="translate(242.5 257.5) scale(0.82 1)" text-anchor="end">-25</text>
<text transform="translate(244.7 267.9) scale(0.82 1)" text-anchor="middle">-20</text>
<text transform="translate(270.0 267.9) scale(0.82 1)" text-anchor="middle">-10</text>
<text transform="translate(294.7 267.9) scale(0.82 1)" text-anchor="middle">0</text>
<text transform="translate(319.7 267.9) scale(0.82 1)" text-anchor="middle">10</text>
<text transform="translate(344.5 267.9) scale(0.82 1)" text-anchor="middle">20</text>
<text transform="translate(438.0 184.3) scale(0.87 1)" text-anchor="end">40</text>
<text transform="translate(438.0 201.5) scale(0.87 1)" text-anchor="end">20</text>
<text transform="translate(438.0 218.7) scale(0.87 1)" text-anchor="end">0</text>
<text transform="translate(438.0 235.8) scale(0.87 1)" text-anchor="end">-20</text>
<text transform="translate(438.0 253.0) scale(0.87 1)" text-anchor="end">-40</text>
<text transform="translate(453.8 267.3) scale(0.87 1)" text-anchor="middle">-40</text>
<text transform="translate(474.0 267.3) scale(0.87 1)" text-anchor="middle">-20</text>
<text transform="translate(494.0 267.3) scale(0.87 1)" text-anchor="middle">0</text>
<text transform="translate(514.3 267.3) scale(0.87 1)" text-anchor="middle">20</text>
<text transform="translate(534.5 267.3) scale(0.87 1)" text-anchor="middle">40</text>
</g>
<g class="cp">
<text x="3.3" y="138.5" textLength="78.5" lengthAdjust="spacingAndGlyphs">(<tspan font-weight="bold">a</tspan>) Spike2Vec</text>
<text x="198.7" y="138.5" textLength="81.3" lengthAdjust="spacingAndGlyphs">(<tspan font-weight="bold">b</tspan>) PWM2Vec</text>
<text x="394.5" y="138.5" textLength="80.4" lengthAdjust="spacingAndGlyphs">(<tspan font-weight="bold">c</tspan>) Minimizer</text>
<text x="3.4" y="301.6" textLength="95.0" lengthAdjust="spacingAndGlyphs">(<tspan font-weight="bold">d</tspan>) G-Spike2Vec</text>
<text x="199.0" y="301.6" textLength="94.6" lengthAdjust="spacingAndGlyphs">(<tspan font-weight="bold">e</tspan>) G-PWM2Vec</text>
<text x="394.5" y="301.6" textLength="94.6" lengthAdjust="spacingAndGlyphs">(<tspan font-weight="bold">f</tspan>) G-Minimizer</text>
</g>
<rect x="137.6" y="321.1" width="364.3" height="64.8" rx="1.5" fill="#fff" stroke="#dfdfdf" stroke-width="0.7"/>
<g>
<circle cx="149.2" cy="328.1" r="4.95" fill="#f0743f"/>
<g transform="translate(149.2 340.7) rotate(45)" fill="#abe596"><rect x="-5.3" y="-1.9" width="10.6" height="3.8" rx="1"/><rect x="-1.9" y="-5.3" width="3.8" height="10.6" rx="1"/></g>
<rect x="145.6" y="349.59999999999997" width="7.2" height="7.2" fill="#3da7e3"/>
<g transform="translate(149.2 365.7)" fill="#e4bd6e"><rect x="-5" y="-1.9" width="10" height="3.8" rx=".9"/><rect x="-1.9" y="-5" width="3.8" height="10" rx=".9"/></g>
<polygon points="149.20,373.10 154.40,378.30 149.20,383.50 144.00,378.30" fill="#3a95e9"/>
<polygon points="245.40,322.40 247.17,326.33 251.10,328.10 247.17,329.87 245.40,333.80 243.63,329.87 239.70,328.10 243.63,326.33" fill="#f4472a"/>
<polygon points="245.4,335.3 250.6,345.5 240.20000000000002,345.5" fill="#3a63f0"/>
<polygon points="249.43,349.47 248.00,353.50 249.43,357.53 245.40,356.10 241.37,357.53 242.80,353.50 241.37,349.47 245.40,350.90" fill="#9aefb2"/>
<polygon points="245.4,371.2 250.70000000000002,361.0 240.1,361.0" fill="#77e7c3"/>
<polygon points="332.80,328.10 329.91,329.55 330.10,332.78 327.40,331.00 324.70,332.78 324.89,329.55 322.00,328.10 324.89,326.65 324.70,323.42 327.40,325.20 330.10,323.42 329.91,326.65" fill="#3a8ef0"/>
<polygon points="332.60,340.70 330.00,345.20 324.80,345.20 322.20,340.70 324.80,336.20 330.00,336.20" fill="#a3ea8e"/>
<polygon points="327.40,348.00 328.87,351.38 332.54,351.73 329.78,354.17 330.57,357.77 327.40,355.90 324.23,357.77 325.02,354.17 322.26,351.73 325.93,351.38" fill="#4f3ff0"/>
<polygon points="327.40,360.90 332.25,364.42 330.40,370.13 324.40,370.13 322.55,364.42" fill="#5bd7cf"/>
<polygon points="404.90,323.10 405.82,325.88 408.44,324.56 407.12,327.18 409.90,328.10 407.12,329.02 408.44,331.64 405.82,330.32 404.90,333.10 403.98,330.32 401.36,331.64 402.68,329.02 399.90,328.10 402.68,327.18 401.36,324.56 403.98,325.88" fill="#94f1ba"/>
<polygon points="409.70,342.69 406.89,345.50 402.91,345.50 400.10,342.69 400.10,338.71 402.91,335.90 406.89,335.90 409.70,338.71" fill="#56c6da"/>
<polygon points="404.90,348.20 406.05,351.21 409.23,350.70 407.20,353.20 409.23,355.70 406.05,355.19 404.90,358.20 403.75,355.19 400.57,355.70 402.60,353.20 400.57,350.70 403.75,351.21" fill="#87edbf"/>
<polygon points="404.90,360.80 409.14,363.25 409.14,368.15 404.90,370.60 400.66,368.15 400.66,363.25" fill="#6bdfcb"/>
</g>
<g class="lg">
<text x="165.6" y="331.1">HIV-1</text>
<text x="165.6" y="343.7">CMV</text>
<text x="165.6" y="356.2">HomoSapiens</text>
<text x="165.6" y="368.7">EBV</text>
<text x="165.6" y="381.3">HTLV-1</text>
<text x="261.0" y="331.1">InfluenzaA</text>
<text x="261.0" y="343.7">HCV</text>
<text x="261.0" y="356.2">YFV</text>
<text x="261.0" y="368.7">RSV</text>
<text x="343.2" y="331.1">HSV-2</text>
<text x="343.2" y="343.7">DENV1</text>
<text x="343.2" y="356.2">DENV3/4</text>
<text x="343.2" y="368.7">MCMV</text>
<text x="420.6" y="331.1">SIV</text>
<text x="420.6" y="343.7">LCMV</text>
<text x="420.6" y="356.2">SARS-CoV-2</text>
<text x="420.6" y="368.7">PlasmodiumBerghei</text>
</g>
</svg>
</body>
</html>
